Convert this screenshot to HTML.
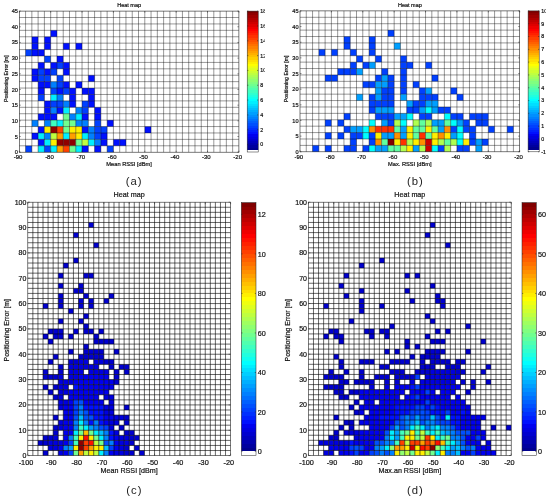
<!DOCTYPE html>
<html><head><meta charset="utf-8"><style>
html,body{margin:0;padding:0;background:#fff;width:550px;height:498px;overflow:hidden}
svg{display:block}

text{font-family:"Liberation Sans",Arial,sans-serif;fill:#111;stroke:#111;stroke-width:0.2px}
text.cap{font-family:"Liberation Sans",Arial,sans-serif;fill:#222;stroke:none;letter-spacing:1px}
</style></head><body>
<div id="w"><svg width="550" height="498" viewBox="0 0 550 498" shape-rendering="geometricPrecision">
<g><rect width="550" height="498" fill="#fff"/>
<rect x="50.67" y="30.34" width="6.29" height="6.43" fill="#0010ff"/>
<rect x="31.85" y="36.75" width="6.29" height="6.43" fill="#0010ff"/>
<rect x="44.4" y="36.75" width="6.29" height="6.43" fill="#0010ff"/>
<rect x="31.85" y="43.17" width="6.29" height="6.43" fill="#0010ff"/>
<rect x="44.4" y="43.17" width="6.29" height="6.43" fill="#0010ff"/>
<rect x="63.22" y="43.17" width="6.29" height="6.43" fill="#0010ff"/>
<rect x="75.77" y="43.17" width="6.29" height="6.43" fill="#0010ff"/>
<rect x="25.57" y="49.58" width="6.29" height="6.43" fill="#0040ff"/>
<rect x="31.85" y="49.58" width="6.29" height="6.43" fill="#0010ff"/>
<rect x="38.12" y="49.58" width="6.29" height="6.43" fill="#0010ff"/>
<rect x="44.4" y="56" width="6.29" height="6.43" fill="#0040ff"/>
<rect x="56.95" y="56" width="6.29" height="6.43" fill="#0010ff"/>
<rect x="38.12" y="62.41" width="6.29" height="6.43" fill="#0010ff"/>
<rect x="50.67" y="62.41" width="6.29" height="6.43" fill="#0010ff"/>
<rect x="56.95" y="62.41" width="6.29" height="6.43" fill="#0040ff"/>
<rect x="63.22" y="62.41" width="6.29" height="6.43" fill="#0010ff"/>
<rect x="31.85" y="68.82" width="6.29" height="6.43" fill="#0010ff"/>
<rect x="38.12" y="68.82" width="6.29" height="6.43" fill="#0040ff"/>
<rect x="44.4" y="68.82" width="6.29" height="6.43" fill="#0010ff"/>
<rect x="50.67" y="68.82" width="6.29" height="6.43" fill="#0040ff"/>
<rect x="63.22" y="68.82" width="6.29" height="6.43" fill="#0010ff"/>
<rect x="31.85" y="75.24" width="6.29" height="6.43" fill="#0010ff"/>
<rect x="38.12" y="75.24" width="6.29" height="6.43" fill="#0040ff"/>
<rect x="44.4" y="75.24" width="6.29" height="6.43" fill="#0040ff"/>
<rect x="56.95" y="75.24" width="6.29" height="6.43" fill="#0040ff"/>
<rect x="88.32" y="75.24" width="6.29" height="6.43" fill="#0010ff"/>
<rect x="38.12" y="81.65" width="6.29" height="6.43" fill="#0010ff"/>
<rect x="44.4" y="81.65" width="6.29" height="6.43" fill="#0010ff"/>
<rect x="50.67" y="81.65" width="6.29" height="6.43" fill="#0080ff"/>
<rect x="56.95" y="81.65" width="6.29" height="6.43" fill="#0040ff"/>
<rect x="63.22" y="81.65" width="6.29" height="6.43" fill="#0010ff"/>
<rect x="75.77" y="81.65" width="6.29" height="6.43" fill="#0010ff"/>
<rect x="38.12" y="88.06" width="6.29" height="6.43" fill="#0010ff"/>
<rect x="50.67" y="88.06" width="6.29" height="6.43" fill="#0040ff"/>
<rect x="56.95" y="88.06" width="6.29" height="6.43" fill="#0010ff"/>
<rect x="63.22" y="88.06" width="6.29" height="6.43" fill="#0040ff"/>
<rect x="69.49" y="88.06" width="6.29" height="6.43" fill="#0010ff"/>
<rect x="82.04" y="88.06" width="6.29" height="6.43" fill="#0010ff"/>
<rect x="88.32" y="88.06" width="6.29" height="6.43" fill="#0010ff"/>
<rect x="38.12" y="94.48" width="6.29" height="6.43" fill="#0040ff"/>
<rect x="50.67" y="94.48" width="6.29" height="6.43" fill="#00efff"/>
<rect x="56.95" y="94.48" width="6.29" height="6.43" fill="#0080ff"/>
<rect x="69.49" y="94.48" width="6.29" height="6.43" fill="#0010ff"/>
<rect x="88.32" y="94.48" width="6.29" height="6.43" fill="#0010ff"/>
<rect x="44.4" y="100.89" width="6.29" height="6.43" fill="#0010ff"/>
<rect x="50.67" y="100.89" width="6.29" height="6.43" fill="#0040ff"/>
<rect x="56.95" y="100.89" width="6.29" height="6.43" fill="#0040ff"/>
<rect x="63.22" y="100.89" width="6.29" height="6.43" fill="#0080ff"/>
<rect x="69.49" y="100.89" width="6.29" height="6.43" fill="#0010ff"/>
<rect x="82.04" y="100.89" width="6.29" height="6.43" fill="#0040ff"/>
<rect x="88.32" y="100.89" width="6.29" height="6.43" fill="#0010ff"/>
<rect x="44.4" y="107.3" width="6.29" height="6.43" fill="#0010ff"/>
<rect x="50.67" y="107.3" width="6.29" height="6.43" fill="#0080ff"/>
<rect x="56.95" y="107.3" width="6.29" height="6.43" fill="#0010ff"/>
<rect x="63.22" y="107.3" width="6.29" height="6.43" fill="#00efff"/>
<rect x="75.77" y="107.3" width="6.29" height="6.43" fill="#0080ff"/>
<rect x="82.04" y="107.3" width="6.29" height="6.43" fill="#0040ff"/>
<rect x="94.59" y="107.3" width="6.29" height="6.43" fill="#0010ff"/>
<rect x="38.12" y="113.72" width="6.29" height="6.43" fill="#0010ff"/>
<rect x="44.4" y="113.72" width="6.29" height="6.43" fill="#0010ff"/>
<rect x="50.67" y="113.72" width="6.29" height="6.43" fill="#0010ff"/>
<rect x="63.22" y="113.72" width="6.29" height="6.43" fill="#70ff8f"/>
<rect x="69.49" y="113.72" width="6.29" height="6.43" fill="#0080ff"/>
<rect x="75.77" y="113.72" width="6.29" height="6.43" fill="#00efff"/>
<rect x="82.04" y="113.72" width="6.29" height="6.43" fill="#0010ff"/>
<rect x="94.59" y="113.72" width="6.29" height="6.43" fill="#0010ff"/>
<rect x="31.85" y="120.13" width="6.29" height="6.43" fill="#0080ff"/>
<rect x="44.4" y="120.13" width="6.29" height="6.43" fill="#0080ff"/>
<rect x="50.67" y="120.13" width="6.29" height="6.43" fill="#40ffbf"/>
<rect x="56.95" y="120.13" width="6.29" height="6.43" fill="#00efff"/>
<rect x="63.22" y="120.13" width="6.29" height="6.43" fill="#70ff8f"/>
<rect x="69.49" y="120.13" width="6.29" height="6.43" fill="#70ff8f"/>
<rect x="75.77" y="120.13" width="6.29" height="6.43" fill="#0080ff"/>
<rect x="82.04" y="120.13" width="6.29" height="6.43" fill="#0080ff"/>
<rect x="94.59" y="120.13" width="6.29" height="6.43" fill="#0040ff"/>
<rect x="107.14" y="120.13" width="6.29" height="6.43" fill="#0010ff"/>
<rect x="38.12" y="126.55" width="6.29" height="6.43" fill="#0010ff"/>
<rect x="44.4" y="126.55" width="6.29" height="6.43" fill="#ffef00"/>
<rect x="50.67" y="126.55" width="6.29" height="6.43" fill="#8f0000"/>
<rect x="56.95" y="126.55" width="6.29" height="6.43" fill="#ff4000"/>
<rect x="63.22" y="126.55" width="6.29" height="6.43" fill="#70ff8f"/>
<rect x="69.49" y="126.55" width="6.29" height="6.43" fill="#ffef00"/>
<rect x="75.77" y="126.55" width="6.29" height="6.43" fill="#ffef00"/>
<rect x="82.04" y="126.55" width="6.29" height="6.43" fill="#0010ff"/>
<rect x="88.32" y="126.55" width="6.29" height="6.43" fill="#0080ff"/>
<rect x="94.59" y="126.55" width="6.29" height="6.43" fill="#0040ff"/>
<rect x="100.87" y="126.55" width="6.29" height="6.43" fill="#0040ff"/>
<rect x="144.79" y="126.55" width="6.29" height="6.43" fill="#0010ff"/>
<rect x="31.85" y="132.96" width="6.29" height="6.43" fill="#0010ff"/>
<rect x="38.12" y="132.96" width="6.29" height="6.43" fill="#00efff"/>
<rect x="44.4" y="132.96" width="6.29" height="6.43" fill="#0080ff"/>
<rect x="50.67" y="132.96" width="6.29" height="6.43" fill="#bfff40"/>
<rect x="56.95" y="132.96" width="6.29" height="6.43" fill="#ff9f00"/>
<rect x="63.22" y="132.96" width="6.29" height="6.43" fill="#00efff"/>
<rect x="69.49" y="132.96" width="6.29" height="6.43" fill="#ff9f00"/>
<rect x="75.77" y="132.96" width="6.29" height="6.43" fill="#ffef00"/>
<rect x="82.04" y="132.96" width="6.29" height="6.43" fill="#00efff"/>
<rect x="88.32" y="132.96" width="6.29" height="6.43" fill="#0080ff"/>
<rect x="94.59" y="132.96" width="6.29" height="6.43" fill="#0040ff"/>
<rect x="100.87" y="132.96" width="6.29" height="6.43" fill="#0010ff"/>
<rect x="38.12" y="139.37" width="6.29" height="6.43" fill="#0010ff"/>
<rect x="44.4" y="139.37" width="6.29" height="6.43" fill="#00efff"/>
<rect x="50.67" y="139.37" width="6.29" height="6.43" fill="#ffef00"/>
<rect x="56.95" y="139.37" width="6.29" height="6.43" fill="#8f0000"/>
<rect x="63.22" y="139.37" width="6.29" height="6.43" fill="#8f0000"/>
<rect x="69.49" y="139.37" width="6.29" height="6.43" fill="#8f0000"/>
<rect x="75.77" y="139.37" width="6.29" height="6.43" fill="#70ff8f"/>
<rect x="82.04" y="139.37" width="6.29" height="6.43" fill="#bfff40"/>
<rect x="88.32" y="139.37" width="6.29" height="6.43" fill="#00efff"/>
<rect x="94.59" y="139.37" width="6.29" height="6.43" fill="#0080ff"/>
<rect x="100.87" y="139.37" width="6.29" height="6.43" fill="#0010ff"/>
<rect x="113.41" y="139.37" width="6.29" height="6.43" fill="#0010ff"/>
<rect x="119.69" y="139.37" width="6.29" height="6.43" fill="#0010ff"/>
<rect x="25.57" y="145.79" width="6.29" height="6.43" fill="#0040ff"/>
<rect x="38.12" y="145.79" width="6.29" height="6.43" fill="#00efff"/>
<rect x="44.4" y="145.79" width="6.29" height="6.43" fill="#0040ff"/>
<rect x="50.67" y="145.79" width="6.29" height="6.43" fill="#00efff"/>
<rect x="56.95" y="145.79" width="6.29" height="6.43" fill="#ff9f00"/>
<rect x="63.22" y="145.79" width="6.29" height="6.43" fill="#ff4000"/>
<rect x="69.49" y="145.79" width="6.29" height="6.43" fill="#70ff8f"/>
<rect x="75.77" y="145.79" width="6.29" height="6.43" fill="#00efff"/>
<rect x="82.04" y="145.79" width="6.29" height="6.43" fill="#0010ff"/>
<rect x="94.59" y="145.79" width="6.29" height="6.43" fill="#0010ff"/>
<rect x="107.14" y="145.79" width="6.29" height="6.43" fill="#0040ff"/>
<path d="M25.57 11.1V152.2M31.85 11.1V152.2M38.12 11.1V152.2M44.4 11.1V152.2M50.67 11.1V152.2M56.95 11.1V152.2M63.22 11.1V152.2M69.49 11.1V152.2M75.77 11.1V152.2M82.04 11.1V152.2M88.32 11.1V152.2M94.59 11.1V152.2M100.87 11.1V152.2M107.14 11.1V152.2M113.41 11.1V152.2M119.69 11.1V152.2M125.96 11.1V152.2M132.24 11.1V152.2M138.51 11.1V152.2M144.79 11.1V152.2M151.06 11.1V152.2M157.33 11.1V152.2M163.61 11.1V152.2M169.88 11.1V152.2M176.16 11.1V152.2M182.43 11.1V152.2M188.71 11.1V152.2M194.98 11.1V152.2M201.25 11.1V152.2M207.53 11.1V152.2M213.8 11.1V152.2M220.08 11.1V152.2M226.35 11.1V152.2M232.63 11.1V152.2M19.3 17.51H238.9M19.3 23.93H238.9M19.3 30.34H238.9M19.3 36.75H238.9M19.3 43.17H238.9M19.3 49.58H238.9M19.3 56H238.9M19.3 62.41H238.9M19.3 68.82H238.9M19.3 75.24H238.9M19.3 81.65H238.9M19.3 88.06H238.9M19.3 94.48H238.9M19.3 100.89H238.9M19.3 107.3H238.9M19.3 113.72H238.9M19.3 120.13H238.9M19.3 126.55H238.9M19.3 132.96H238.9M19.3 139.37H238.9M19.3 145.79H238.9" stroke="rgba(0,0,0,0.58)" stroke-width="0.7" fill="none"/>
<rect x="19.3" y="11.1" width="219.6" height="141.1" fill="none" stroke="#222" stroke-width="0.6"/>
<text x="18.1" y="159.1" font-size="6" text-anchor="middle">-90</text>
<text x="49.47" y="159.1" font-size="6" text-anchor="middle">-80</text>
<text x="80.84" y="159.1" font-size="6" text-anchor="middle">-70</text>
<text x="112.21" y="159.1" font-size="6" text-anchor="middle">-60</text>
<text x="143.59" y="159.1" font-size="6" text-anchor="middle">-50</text>
<text x="174.96" y="159.1" font-size="6" text-anchor="middle">-40</text>
<text x="206.33" y="159.1" font-size="6" text-anchor="middle">-30</text>
<text x="237.7" y="159.1" font-size="6" text-anchor="middle">-20</text>
<text x="17.9" y="154.22" font-size="5.6" text-anchor="end">0</text>
<text x="17.9" y="138.54" font-size="5.6" text-anchor="end">5</text>
<text x="17.9" y="122.86" font-size="5.6" text-anchor="end">10</text>
<text x="17.9" y="107.18" font-size="5.6" text-anchor="end">15</text>
<text x="17.9" y="91.5" font-size="5.6" text-anchor="end">20</text>
<text x="17.9" y="75.83" font-size="5.6" text-anchor="end">25</text>
<text x="17.9" y="60.15" font-size="5.6" text-anchor="end">30</text>
<text x="17.9" y="44.47" font-size="5.6" text-anchor="end">35</text>
<text x="17.9" y="28.79" font-size="5.6" text-anchor="end">40</text>
<text x="17.9" y="13.12" font-size="5.6" text-anchor="end">45</text>
<path d="M19.3 152.2v-1.5M19.3 11.1v1.5M50.67 152.2v-1.5M50.67 11.1v1.5M82.04 152.2v-1.5M82.04 11.1v1.5M113.41 152.2v-1.5M113.41 11.1v1.5M144.79 152.2v-1.5M144.79 11.1v1.5M176.16 152.2v-1.5M176.16 11.1v1.5M207.53 152.2v-1.5M207.53 11.1v1.5M238.9 152.2v-1.5M238.9 11.1v1.5M19.3 152.2h1.5M238.9 152.2h-1.5M19.3 136.52h1.5M238.9 136.52h-1.5M19.3 120.84h1.5M238.9 120.84h-1.5M19.3 105.17h1.5M238.9 105.17h-1.5M19.3 89.49h1.5M238.9 89.49h-1.5M19.3 73.81h1.5M238.9 73.81h-1.5M19.3 58.13h1.5M238.9 58.13h-1.5M19.3 42.46h1.5M238.9 42.46h-1.5M19.3 26.78h1.5M238.9 26.78h-1.5M19.3 11.1h1.5M238.9 11.1h-1.5" stroke="#222" stroke-width="0.5" fill="none"/>
<text x="129.1" y="7" font-size="5.5" text-anchor="middle">Heat map</text>
<text x="129.1" y="166" font-size="5.7" text-anchor="middle">Mean RSSI [dBm]</text>
<text transform="translate(7.9 78.7) rotate(-90)" font-size="5.15" text-anchor="middle">Positioning Error [m]</text>
<linearGradient id="ga" x1="0" y1="0" x2="0" y2="1"><stop offset="0%" stop-color="#800000"/><stop offset="1.56%" stop-color="#800000"/><stop offset="1.56%" stop-color="#8f0000"/><stop offset="3.12%" stop-color="#8f0000"/><stop offset="3.12%" stop-color="#9f0000"/><stop offset="4.69%" stop-color="#9f0000"/><stop offset="4.69%" stop-color="#af0000"/><stop offset="6.25%" stop-color="#af0000"/><stop offset="6.25%" stop-color="#bf0000"/><stop offset="7.81%" stop-color="#bf0000"/><stop offset="7.81%" stop-color="#cf0000"/><stop offset="9.38%" stop-color="#cf0000"/><stop offset="9.38%" stop-color="#df0000"/><stop offset="10.94%" stop-color="#df0000"/><stop offset="10.94%" stop-color="#ef0000"/><stop offset="12.5%" stop-color="#ef0000"/><stop offset="12.5%" stop-color="#ff0000"/><stop offset="14.06%" stop-color="#ff0000"/><stop offset="14.06%" stop-color="#ff1000"/><stop offset="15.62%" stop-color="#ff1000"/><stop offset="15.62%" stop-color="#ff2000"/><stop offset="17.19%" stop-color="#ff2000"/><stop offset="17.19%" stop-color="#ff3000"/><stop offset="18.75%" stop-color="#ff3000"/><stop offset="18.75%" stop-color="#ff4000"/><stop offset="20.31%" stop-color="#ff4000"/><stop offset="20.31%" stop-color="#ff5000"/><stop offset="21.88%" stop-color="#ff5000"/><stop offset="21.88%" stop-color="#ff6000"/><stop offset="23.44%" stop-color="#ff6000"/><stop offset="23.44%" stop-color="#ff7000"/><stop offset="25%" stop-color="#ff7000"/><stop offset="25%" stop-color="#ff8000"/><stop offset="26.56%" stop-color="#ff8000"/><stop offset="26.56%" stop-color="#ff8f00"/><stop offset="28.12%" stop-color="#ff8f00"/><stop offset="28.12%" stop-color="#ff9f00"/><stop offset="29.69%" stop-color="#ff9f00"/><stop offset="29.69%" stop-color="#ffaf00"/><stop offset="31.25%" stop-color="#ffaf00"/><stop offset="31.25%" stop-color="#ffbf00"/><stop offset="32.81%" stop-color="#ffbf00"/><stop offset="32.81%" stop-color="#ffcf00"/><stop offset="34.38%" stop-color="#ffcf00"/><stop offset="34.38%" stop-color="#ffdf00"/><stop offset="35.94%" stop-color="#ffdf00"/><stop offset="35.94%" stop-color="#ffef00"/><stop offset="37.5%" stop-color="#ffef00"/><stop offset="37.5%" stop-color="#ffff00"/><stop offset="39.06%" stop-color="#ffff00"/><stop offset="39.06%" stop-color="#efff10"/><stop offset="40.62%" stop-color="#efff10"/><stop offset="40.62%" stop-color="#dfff20"/><stop offset="42.19%" stop-color="#dfff20"/><stop offset="42.19%" stop-color="#cfff30"/><stop offset="43.75%" stop-color="#cfff30"/><stop offset="43.75%" stop-color="#bfff40"/><stop offset="45.31%" stop-color="#bfff40"/><stop offset="45.31%" stop-color="#afff50"/><stop offset="46.88%" stop-color="#afff50"/><stop offset="46.88%" stop-color="#9fff60"/><stop offset="48.44%" stop-color="#9fff60"/><stop offset="48.44%" stop-color="#8fff70"/><stop offset="50%" stop-color="#8fff70"/><stop offset="50%" stop-color="#80ff80"/><stop offset="51.56%" stop-color="#80ff80"/><stop offset="51.56%" stop-color="#70ff8f"/><stop offset="53.12%" stop-color="#70ff8f"/><stop offset="53.12%" stop-color="#60ff9f"/><stop offset="54.69%" stop-color="#60ff9f"/><stop offset="54.69%" stop-color="#50ffaf"/><stop offset="56.25%" stop-color="#50ffaf"/><stop offset="56.25%" stop-color="#40ffbf"/><stop offset="57.81%" stop-color="#40ffbf"/><stop offset="57.81%" stop-color="#30ffcf"/><stop offset="59.38%" stop-color="#30ffcf"/><stop offset="59.38%" stop-color="#20ffdf"/><stop offset="60.94%" stop-color="#20ffdf"/><stop offset="60.94%" stop-color="#10ffef"/><stop offset="62.5%" stop-color="#10ffef"/><stop offset="62.5%" stop-color="#00ffff"/><stop offset="64.06%" stop-color="#00ffff"/><stop offset="64.06%" stop-color="#00efff"/><stop offset="65.62%" stop-color="#00efff"/><stop offset="65.62%" stop-color="#00dfff"/><stop offset="67.19%" stop-color="#00dfff"/><stop offset="67.19%" stop-color="#00cfff"/><stop offset="68.75%" stop-color="#00cfff"/><stop offset="68.75%" stop-color="#00bfff"/><stop offset="70.31%" stop-color="#00bfff"/><stop offset="70.31%" stop-color="#00afff"/><stop offset="71.88%" stop-color="#00afff"/><stop offset="71.88%" stop-color="#009fff"/><stop offset="73.44%" stop-color="#009fff"/><stop offset="73.44%" stop-color="#008fff"/><stop offset="75%" stop-color="#008fff"/><stop offset="75%" stop-color="#0080ff"/><stop offset="76.56%" stop-color="#0080ff"/><stop offset="76.56%" stop-color="#0070ff"/><stop offset="78.12%" stop-color="#0070ff"/><stop offset="78.12%" stop-color="#0060ff"/><stop offset="79.69%" stop-color="#0060ff"/><stop offset="79.69%" stop-color="#0050ff"/><stop offset="81.25%" stop-color="#0050ff"/><stop offset="81.25%" stop-color="#0040ff"/><stop offset="82.81%" stop-color="#0040ff"/><stop offset="82.81%" stop-color="#0030ff"/><stop offset="84.38%" stop-color="#0030ff"/><stop offset="84.38%" stop-color="#0020ff"/><stop offset="85.94%" stop-color="#0020ff"/><stop offset="85.94%" stop-color="#0010ff"/><stop offset="87.5%" stop-color="#0010ff"/><stop offset="87.5%" stop-color="#0000ef"/><stop offset="89.06%" stop-color="#0000ef"/><stop offset="89.06%" stop-color="#0000df"/><stop offset="90.62%" stop-color="#0000df"/><stop offset="90.62%" stop-color="#0000cf"/><stop offset="92.19%" stop-color="#0000cf"/><stop offset="92.19%" stop-color="#0000bf"/><stop offset="93.75%" stop-color="#0000bf"/><stop offset="93.75%" stop-color="#0000af"/><stop offset="95.31%" stop-color="#0000af"/><stop offset="95.31%" stop-color="#00009f"/><stop offset="96.88%" stop-color="#00009f"/><stop offset="96.88%" stop-color="#00008f"/><stop offset="98.44%" stop-color="#00008f"/><stop offset="98.44%" stop-color="#ffffff"/><stop offset="100%" stop-color="#ffffff"/></linearGradient>
<rect x="247.2" y="11.1" width="11" height="140.9" fill="url(#ga)"/>
<rect x="247.2" y="11.1" width="11" height="140.9" fill="none" stroke="#222" stroke-width="0.5"/>
<clipPath id="cla"><rect x="0" y="0" width="264.7" height="498"/></clipPath><g clip-path="url(#cla)">
<text x="260.2" y="146.49" font-size="5.3">0</text>
<text x="260.2" y="131.66" font-size="5.3">2</text>
<text x="260.2" y="116.83" font-size="5.3">4</text>
<text x="260.2" y="102" font-size="5.3">6</text>
<text x="260.2" y="87.17" font-size="5.3">8</text>
<text x="260.2" y="72.33" font-size="5.3">10</text>
<text x="260.2" y="57.5" font-size="5.3">12</text>
<text x="260.2" y="42.67" font-size="5.3">14</text>
<text x="260.2" y="27.84" font-size="5.3">16</text>
<text x="260.2" y="13.01" font-size="5.3">18</text>
</g>
<path d="M258.2 144.58h-1.2M247.2 144.58h1.2M258.2 129.75h-1.2M247.2 129.75h1.2M258.2 114.92h-1.2M247.2 114.92h1.2M258.2 100.09h-1.2M247.2 100.09h1.2M258.2 85.26h-1.2M247.2 85.26h1.2M258.2 70.43h-1.2M247.2 70.43h1.2M258.2 55.59h-1.2M247.2 55.59h1.2M258.2 40.76h-1.2M247.2 40.76h1.2M258.2 25.93h-1.2M247.2 25.93h1.2M258.2 11.1h-1.2M247.2 11.1h1.2" stroke="#222" stroke-width="0.5" fill="none"/>
<text x="134.2" y="184.9" font-size="11.3" text-anchor="middle" class="cap">(a)</text>
<rect x="387.88" y="30.11" width="6.3" height="6.42" fill="#0040ff"/>
<rect x="343.94" y="36.52" width="6.3" height="6.42" fill="#0040ff"/>
<rect x="369.05" y="36.52" width="6.3" height="6.42" fill="#0040ff"/>
<rect x="343.94" y="42.92" width="6.3" height="6.42" fill="#0040ff"/>
<rect x="369.05" y="42.92" width="6.3" height="6.42" fill="#0040ff"/>
<rect x="394.16" y="42.92" width="6.3" height="6.42" fill="#009fff"/>
<rect x="318.83" y="49.33" width="6.3" height="6.42" fill="#0040ff"/>
<rect x="331.39" y="49.33" width="6.3" height="6.42" fill="#0040ff"/>
<rect x="350.22" y="49.33" width="6.3" height="6.42" fill="#0040ff"/>
<rect x="369.05" y="49.33" width="6.3" height="6.42" fill="#0040ff"/>
<rect x="356.49" y="55.73" width="6.3" height="6.42" fill="#0040ff"/>
<rect x="375.33" y="55.73" width="6.3" height="6.42" fill="#0040ff"/>
<rect x="400.43" y="55.73" width="6.3" height="6.42" fill="#0040ff"/>
<rect x="350.22" y="62.14" width="6.3" height="6.42" fill="#0040ff"/>
<rect x="362.77" y="62.14" width="6.3" height="6.42" fill="#0040ff"/>
<rect x="369.05" y="62.14" width="6.3" height="6.42" fill="#009fff"/>
<rect x="400.43" y="62.14" width="6.3" height="6.42" fill="#0040ff"/>
<rect x="406.71" y="62.14" width="6.3" height="6.42" fill="#0040ff"/>
<rect x="425.54" y="62.14" width="6.3" height="6.42" fill="#0040ff"/>
<rect x="337.66" y="68.54" width="6.3" height="6.42" fill="#0040ff"/>
<rect x="343.94" y="68.54" width="6.3" height="6.42" fill="#0040ff"/>
<rect x="350.22" y="68.54" width="6.3" height="6.42" fill="#0040ff"/>
<rect x="356.49" y="68.54" width="6.3" height="6.42" fill="#009fff"/>
<rect x="381.6" y="68.54" width="6.3" height="6.42" fill="#0040ff"/>
<rect x="400.43" y="68.54" width="6.3" height="6.42" fill="#0040ff"/>
<rect x="325.11" y="74.95" width="6.3" height="6.42" fill="#0040ff"/>
<rect x="331.39" y="74.95" width="6.3" height="6.42" fill="#0040ff"/>
<rect x="375.33" y="74.95" width="6.3" height="6.42" fill="#0040ff"/>
<rect x="381.6" y="74.95" width="6.3" height="6.42" fill="#009fff"/>
<rect x="387.88" y="74.95" width="6.3" height="6.42" fill="#0040ff"/>
<rect x="400.43" y="74.95" width="6.3" height="6.42" fill="#0040ff"/>
<rect x="431.82" y="74.95" width="6.3" height="6.42" fill="#0040ff"/>
<rect x="362.77" y="81.35" width="6.3" height="6.42" fill="#0040ff"/>
<rect x="369.05" y="81.35" width="6.3" height="6.42" fill="#0040ff"/>
<rect x="375.33" y="81.35" width="6.3" height="6.42" fill="#009fff"/>
<rect x="381.6" y="81.35" width="6.3" height="6.42" fill="#009fff"/>
<rect x="387.88" y="81.35" width="6.3" height="6.42" fill="#0040ff"/>
<rect x="400.43" y="81.35" width="6.3" height="6.42" fill="#0040ff"/>
<rect x="412.99" y="81.35" width="6.3" height="6.42" fill="#0040ff"/>
<rect x="375.33" y="87.75" width="6.3" height="6.42" fill="#009fff"/>
<rect x="381.6" y="87.75" width="6.3" height="6.42" fill="#0040ff"/>
<rect x="387.88" y="87.75" width="6.3" height="6.42" fill="#0040ff"/>
<rect x="400.43" y="87.75" width="6.3" height="6.42" fill="#0040ff"/>
<rect x="419.27" y="87.75" width="6.3" height="6.42" fill="#0040ff"/>
<rect x="425.54" y="87.75" width="6.3" height="6.42" fill="#009fff"/>
<rect x="450.65" y="87.75" width="6.3" height="6.42" fill="#0040ff"/>
<rect x="356.49" y="94.16" width="6.3" height="6.42" fill="#009fff"/>
<rect x="369.05" y="94.16" width="6.3" height="6.42" fill="#0040ff"/>
<rect x="375.33" y="94.16" width="6.3" height="6.42" fill="#009fff"/>
<rect x="381.6" y="94.16" width="6.3" height="6.42" fill="#0040ff"/>
<rect x="387.88" y="94.16" width="6.3" height="6.42" fill="#0040ff"/>
<rect x="400.43" y="94.16" width="6.3" height="6.42" fill="#009fff"/>
<rect x="419.27" y="94.16" width="6.3" height="6.42" fill="#0040ff"/>
<rect x="425.54" y="94.16" width="6.3" height="6.42" fill="#0040ff"/>
<rect x="431.82" y="94.16" width="6.3" height="6.42" fill="#0040ff"/>
<rect x="456.93" y="94.16" width="6.3" height="6.42" fill="#0040ff"/>
<rect x="369.05" y="100.56" width="6.3" height="6.42" fill="#0040ff"/>
<rect x="375.33" y="100.56" width="6.3" height="6.42" fill="#0040ff"/>
<rect x="381.6" y="100.56" width="6.3" height="6.42" fill="#0040ff"/>
<rect x="387.88" y="100.56" width="6.3" height="6.42" fill="#0040ff"/>
<rect x="406.71" y="100.56" width="6.3" height="6.42" fill="#009fff"/>
<rect x="412.99" y="100.56" width="6.3" height="6.42" fill="#0040ff"/>
<rect x="419.27" y="100.56" width="6.3" height="6.42" fill="#0040ff"/>
<rect x="425.54" y="100.56" width="6.3" height="6.42" fill="#009fff"/>
<rect x="431.82" y="100.56" width="6.3" height="6.42" fill="#009fff"/>
<rect x="369.05" y="106.97" width="6.3" height="6.42" fill="#0040ff"/>
<rect x="375.33" y="106.97" width="6.3" height="6.42" fill="#009fff"/>
<rect x="381.6" y="106.97" width="6.3" height="6.42" fill="#009fff"/>
<rect x="387.88" y="106.97" width="6.3" height="6.42" fill="#009fff"/>
<rect x="406.71" y="106.97" width="6.3" height="6.42" fill="#0040ff"/>
<rect x="412.99" y="106.97" width="6.3" height="6.42" fill="#0040ff"/>
<rect x="419.27" y="106.97" width="6.3" height="6.42" fill="#009fff"/>
<rect x="425.54" y="106.97" width="6.3" height="6.42" fill="#00ffff"/>
<rect x="431.82" y="106.97" width="6.3" height="6.42" fill="#009fff"/>
<rect x="438.1" y="106.97" width="6.3" height="6.42" fill="#0040ff"/>
<rect x="444.37" y="106.97" width="6.3" height="6.42" fill="#0040ff"/>
<rect x="343.94" y="113.37" width="6.3" height="6.42" fill="#0040ff"/>
<rect x="375.33" y="113.37" width="6.3" height="6.42" fill="#0040ff"/>
<rect x="381.6" y="113.37" width="6.3" height="6.42" fill="#0040ff"/>
<rect x="387.88" y="113.37" width="6.3" height="6.42" fill="#0040ff"/>
<rect x="394.16" y="113.37" width="6.3" height="6.42" fill="#009fff"/>
<rect x="400.43" y="113.37" width="6.3" height="6.42" fill="#009fff"/>
<rect x="406.71" y="113.37" width="6.3" height="6.42" fill="#00ffff"/>
<rect x="419.27" y="113.37" width="6.3" height="6.42" fill="#0040ff"/>
<rect x="425.54" y="113.37" width="6.3" height="6.42" fill="#0040ff"/>
<rect x="444.37" y="113.37" width="6.3" height="6.42" fill="#00ffff"/>
<rect x="450.65" y="113.37" width="6.3" height="6.42" fill="#0040ff"/>
<rect x="456.93" y="113.37" width="6.3" height="6.42" fill="#0040ff"/>
<rect x="469.48" y="113.37" width="6.3" height="6.42" fill="#0040ff"/>
<rect x="475.76" y="113.37" width="6.3" height="6.42" fill="#0040ff"/>
<rect x="482.04" y="113.37" width="6.3" height="6.42" fill="#0040ff"/>
<rect x="325.11" y="119.78" width="6.3" height="6.42" fill="#0040ff"/>
<rect x="337.66" y="119.78" width="6.3" height="6.42" fill="#0040ff"/>
<rect x="369.05" y="119.78" width="6.3" height="6.42" fill="#00ffff"/>
<rect x="381.6" y="119.78" width="6.3" height="6.42" fill="#009fff"/>
<rect x="387.88" y="119.78" width="6.3" height="6.42" fill="#0040ff"/>
<rect x="394.16" y="119.78" width="6.3" height="6.42" fill="#afff50"/>
<rect x="400.43" y="119.78" width="6.3" height="6.42" fill="#00ffff"/>
<rect x="412.99" y="119.78" width="6.3" height="6.42" fill="#afff50"/>
<rect x="419.27" y="119.78" width="6.3" height="6.42" fill="#60ff9f"/>
<rect x="425.54" y="119.78" width="6.3" height="6.42" fill="#afff50"/>
<rect x="431.82" y="119.78" width="6.3" height="6.42" fill="#009fff"/>
<rect x="438.1" y="119.78" width="6.3" height="6.42" fill="#009fff"/>
<rect x="444.37" y="119.78" width="6.3" height="6.42" fill="#60ff9f"/>
<rect x="450.65" y="119.78" width="6.3" height="6.42" fill="#00ffff"/>
<rect x="456.93" y="119.78" width="6.3" height="6.42" fill="#009fff"/>
<rect x="463.21" y="119.78" width="6.3" height="6.42" fill="#0040ff"/>
<rect x="475.76" y="119.78" width="6.3" height="6.42" fill="#0040ff"/>
<rect x="482.04" y="119.78" width="6.3" height="6.42" fill="#0040ff"/>
<rect x="343.94" y="126.18" width="6.3" height="6.42" fill="#0040ff"/>
<rect x="350.22" y="126.18" width="6.3" height="6.42" fill="#009fff"/>
<rect x="356.49" y="126.18" width="6.3" height="6.42" fill="#009fff"/>
<rect x="362.77" y="126.18" width="6.3" height="6.42" fill="#00ffff"/>
<rect x="369.05" y="126.18" width="6.3" height="6.42" fill="#ff8f00"/>
<rect x="375.33" y="126.18" width="6.3" height="6.42" fill="#ff3000"/>
<rect x="381.6" y="126.18" width="6.3" height="6.42" fill="#ff3000"/>
<rect x="387.88" y="126.18" width="6.3" height="6.42" fill="#ff3000"/>
<rect x="394.16" y="126.18" width="6.3" height="6.42" fill="#60ff9f"/>
<rect x="400.43" y="126.18" width="6.3" height="6.42" fill="#009fff"/>
<rect x="406.71" y="126.18" width="6.3" height="6.42" fill="#ffef00"/>
<rect x="412.99" y="126.18" width="6.3" height="6.42" fill="#60ff9f"/>
<rect x="419.27" y="126.18" width="6.3" height="6.42" fill="#60ff9f"/>
<rect x="425.54" y="126.18" width="6.3" height="6.42" fill="#ffef00"/>
<rect x="431.82" y="126.18" width="6.3" height="6.42" fill="#60ff9f"/>
<rect x="438.1" y="126.18" width="6.3" height="6.42" fill="#009fff"/>
<rect x="444.37" y="126.18" width="6.3" height="6.42" fill="#ff8f00"/>
<rect x="450.65" y="126.18" width="6.3" height="6.42" fill="#0040ff"/>
<rect x="456.93" y="126.18" width="6.3" height="6.42" fill="#00ffff"/>
<rect x="463.21" y="126.18" width="6.3" height="6.42" fill="#0040ff"/>
<rect x="469.48" y="126.18" width="6.3" height="6.42" fill="#0040ff"/>
<rect x="488.31" y="126.18" width="6.3" height="6.42" fill="#0040ff"/>
<rect x="507.15" y="126.18" width="6.3" height="6.42" fill="#0040ff"/>
<rect x="325.11" y="132.59" width="6.3" height="6.42" fill="#0040ff"/>
<rect x="337.66" y="132.59" width="6.3" height="6.42" fill="#0040ff"/>
<rect x="350.22" y="132.59" width="6.3" height="6.42" fill="#0040ff"/>
<rect x="356.49" y="132.59" width="6.3" height="6.42" fill="#0040ff"/>
<rect x="362.77" y="132.59" width="6.3" height="6.42" fill="#00ffff"/>
<rect x="369.05" y="132.59" width="6.3" height="6.42" fill="#0040ff"/>
<rect x="375.33" y="132.59" width="6.3" height="6.42" fill="#ffef00"/>
<rect x="381.6" y="132.59" width="6.3" height="6.42" fill="#009fff"/>
<rect x="387.88" y="132.59" width="6.3" height="6.42" fill="#009fff"/>
<rect x="394.16" y="132.59" width="6.3" height="6.42" fill="#ff8f00"/>
<rect x="400.43" y="132.59" width="6.3" height="6.42" fill="#009fff"/>
<rect x="406.71" y="132.59" width="6.3" height="6.42" fill="#ffef00"/>
<rect x="412.99" y="132.59" width="6.3" height="6.42" fill="#60ff9f"/>
<rect x="419.27" y="132.59" width="6.3" height="6.42" fill="#ff3000"/>
<rect x="425.54" y="132.59" width="6.3" height="6.42" fill="#60ff9f"/>
<rect x="431.82" y="132.59" width="6.3" height="6.42" fill="#ffef00"/>
<rect x="438.1" y="132.59" width="6.3" height="6.42" fill="#ff8f00"/>
<rect x="444.37" y="132.59" width="6.3" height="6.42" fill="#ffef00"/>
<rect x="450.65" y="132.59" width="6.3" height="6.42" fill="#009fff"/>
<rect x="456.93" y="132.59" width="6.3" height="6.42" fill="#00ffff"/>
<rect x="469.48" y="132.59" width="6.3" height="6.42" fill="#0040ff"/>
<rect x="350.22" y="138.99" width="6.3" height="6.42" fill="#0040ff"/>
<rect x="369.05" y="138.99" width="6.3" height="6.42" fill="#0040ff"/>
<rect x="375.33" y="138.99" width="6.3" height="6.42" fill="#ff8f00"/>
<rect x="381.6" y="138.99" width="6.3" height="6.42" fill="#60ff9f"/>
<rect x="387.88" y="138.99" width="6.3" height="6.42" fill="#800000"/>
<rect x="394.16" y="138.99" width="6.3" height="6.42" fill="#ffef00"/>
<rect x="400.43" y="138.99" width="6.3" height="6.42" fill="#ff3000"/>
<rect x="406.71" y="138.99" width="6.3" height="6.42" fill="#afff50"/>
<rect x="412.99" y="138.99" width="6.3" height="6.42" fill="#ffef00"/>
<rect x="419.27" y="138.99" width="6.3" height="6.42" fill="#ff8f00"/>
<rect x="425.54" y="138.99" width="6.3" height="6.42" fill="#cf0000"/>
<rect x="431.82" y="138.99" width="6.3" height="6.42" fill="#ffef00"/>
<rect x="438.1" y="138.99" width="6.3" height="6.42" fill="#afff50"/>
<rect x="444.37" y="138.99" width="6.3" height="6.42" fill="#60ff9f"/>
<rect x="450.65" y="138.99" width="6.3" height="6.42" fill="#afff50"/>
<rect x="456.93" y="138.99" width="6.3" height="6.42" fill="#00ffff"/>
<rect x="463.21" y="138.99" width="6.3" height="6.42" fill="#ffef00"/>
<rect x="469.48" y="138.99" width="6.3" height="6.42" fill="#0040ff"/>
<rect x="475.76" y="138.99" width="6.3" height="6.42" fill="#009fff"/>
<rect x="482.04" y="138.99" width="6.3" height="6.42" fill="#0040ff"/>
<rect x="312.55" y="145.4" width="6.3" height="6.42" fill="#0040ff"/>
<rect x="325.11" y="145.4" width="6.3" height="6.42" fill="#0040ff"/>
<rect x="343.94" y="145.4" width="6.3" height="6.42" fill="#0040ff"/>
<rect x="350.22" y="145.4" width="6.3" height="6.42" fill="#0040ff"/>
<rect x="362.77" y="145.4" width="6.3" height="6.42" fill="#0040ff"/>
<rect x="369.05" y="145.4" width="6.3" height="6.42" fill="#00ffff"/>
<rect x="375.33" y="145.4" width="6.3" height="6.42" fill="#009fff"/>
<rect x="381.6" y="145.4" width="6.3" height="6.42" fill="#009fff"/>
<rect x="387.88" y="145.4" width="6.3" height="6.42" fill="#60ff9f"/>
<rect x="394.16" y="145.4" width="6.3" height="6.42" fill="#60ff9f"/>
<rect x="400.43" y="145.4" width="6.3" height="6.42" fill="#afff50"/>
<rect x="406.71" y="145.4" width="6.3" height="6.42" fill="#ffef00"/>
<rect x="412.99" y="145.4" width="6.3" height="6.42" fill="#009fff"/>
<rect x="419.27" y="145.4" width="6.3" height="6.42" fill="#afff50"/>
<rect x="425.54" y="145.4" width="6.3" height="6.42" fill="#cf0000"/>
<rect x="431.82" y="145.4" width="6.3" height="6.42" fill="#00ffff"/>
<rect x="438.1" y="145.4" width="6.3" height="6.42" fill="#0040ff"/>
<rect x="444.37" y="145.4" width="6.3" height="6.42" fill="#afff50"/>
<rect x="456.93" y="145.4" width="6.3" height="6.42" fill="#0040ff"/>
<rect x="463.21" y="145.4" width="6.3" height="6.42" fill="#0040ff"/>
<rect x="475.76" y="145.4" width="6.3" height="6.42" fill="#009fff"/>
<path d="M306.28 10.9V151.8M312.55 10.9V151.8M318.83 10.9V151.8M325.11 10.9V151.8M331.39 10.9V151.8M337.66 10.9V151.8M343.94 10.9V151.8M350.22 10.9V151.8M356.49 10.9V151.8M362.77 10.9V151.8M369.05 10.9V151.8M375.33 10.9V151.8M381.6 10.9V151.8M387.88 10.9V151.8M394.16 10.9V151.8M400.43 10.9V151.8M406.71 10.9V151.8M412.99 10.9V151.8M419.27 10.9V151.8M425.54 10.9V151.8M431.82 10.9V151.8M438.1 10.9V151.8M444.37 10.9V151.8M450.65 10.9V151.8M456.93 10.9V151.8M463.21 10.9V151.8M469.48 10.9V151.8M475.76 10.9V151.8M482.04 10.9V151.8M488.31 10.9V151.8M494.59 10.9V151.8M500.87 10.9V151.8M507.15 10.9V151.8M513.42 10.9V151.8M300 17.3H519.7M300 23.71H519.7M300 30.11H519.7M300 36.52H519.7M300 42.92H519.7M300 49.33H519.7M300 55.73H519.7M300 62.14H519.7M300 68.54H519.7M300 74.95H519.7M300 81.35H519.7M300 87.75H519.7M300 94.16H519.7M300 100.56H519.7M300 106.97H519.7M300 113.37H519.7M300 119.78H519.7M300 126.18H519.7M300 132.59H519.7M300 138.99H519.7M300 145.4H519.7" stroke="rgba(0,0,0,0.58)" stroke-width="0.7" fill="none"/>
<rect x="300" y="10.9" width="219.7" height="140.9" fill="none" stroke="#222" stroke-width="0.6"/>
<text x="298.8" y="158.7" font-size="6" text-anchor="middle">-90</text>
<text x="330.19" y="158.7" font-size="6" text-anchor="middle">-80</text>
<text x="361.57" y="158.7" font-size="6" text-anchor="middle">-70</text>
<text x="392.96" y="158.7" font-size="6" text-anchor="middle">-60</text>
<text x="424.34" y="158.7" font-size="6" text-anchor="middle">-50</text>
<text x="455.73" y="158.7" font-size="6" text-anchor="middle">-40</text>
<text x="487.11" y="158.7" font-size="6" text-anchor="middle">-30</text>
<text x="518.5" y="158.7" font-size="6" text-anchor="middle">-20</text>
<text x="298.6" y="153.82" font-size="5.6" text-anchor="end">0</text>
<text x="298.6" y="138.16" font-size="5.6" text-anchor="end">5</text>
<text x="298.6" y="122.5" font-size="5.6" text-anchor="end">10</text>
<text x="298.6" y="106.85" font-size="5.6" text-anchor="end">15</text>
<text x="298.6" y="91.19" font-size="5.6" text-anchor="end">20</text>
<text x="298.6" y="75.54" font-size="5.6" text-anchor="end">25</text>
<text x="298.6" y="59.88" font-size="5.6" text-anchor="end">30</text>
<text x="298.6" y="44.23" font-size="5.6" text-anchor="end">35</text>
<text x="298.6" y="28.57" font-size="5.6" text-anchor="end">40</text>
<text x="298.6" y="12.92" font-size="5.6" text-anchor="end">45</text>
<path d="M300 151.8v-1.5M300 10.9v1.5M331.39 151.8v-1.5M331.39 10.9v1.5M362.77 151.8v-1.5M362.77 10.9v1.5M394.16 151.8v-1.5M394.16 10.9v1.5M425.54 151.8v-1.5M425.54 10.9v1.5M456.93 151.8v-1.5M456.93 10.9v1.5M488.31 151.8v-1.5M488.31 10.9v1.5M519.7 151.8v-1.5M519.7 10.9v1.5M300 151.8h1.5M519.7 151.8h-1.5M300 136.14h1.5M519.7 136.14h-1.5M300 120.49h1.5M519.7 120.49h-1.5M300 104.83h1.5M519.7 104.83h-1.5M300 89.18h1.5M519.7 89.18h-1.5M300 73.52h1.5M519.7 73.52h-1.5M300 57.87h1.5M519.7 57.87h-1.5M300 42.21h1.5M519.7 42.21h-1.5M300 26.56h1.5M519.7 26.56h-1.5M300 10.9h1.5M519.7 10.9h-1.5" stroke="#222" stroke-width="0.5" fill="none"/>
<text x="409.85" y="7" font-size="5.5" text-anchor="middle">Heat map</text>
<text x="409.85" y="166" font-size="5.7" text-anchor="middle">Max. RSSI [dBm]</text>
<text transform="translate(288 78.9) rotate(-90)" font-size="5.15" text-anchor="middle">Positioning Error [m]</text>
<linearGradient id="gb" x1="0" y1="0" x2="0" y2="1"><stop offset="0%" stop-color="#800000"/><stop offset="1.56%" stop-color="#800000"/><stop offset="1.56%" stop-color="#8f0000"/><stop offset="3.12%" stop-color="#8f0000"/><stop offset="3.12%" stop-color="#9f0000"/><stop offset="4.69%" stop-color="#9f0000"/><stop offset="4.69%" stop-color="#af0000"/><stop offset="6.25%" stop-color="#af0000"/><stop offset="6.25%" stop-color="#bf0000"/><stop offset="7.81%" stop-color="#bf0000"/><stop offset="7.81%" stop-color="#cf0000"/><stop offset="9.38%" stop-color="#cf0000"/><stop offset="9.38%" stop-color="#df0000"/><stop offset="10.94%" stop-color="#df0000"/><stop offset="10.94%" stop-color="#ef0000"/><stop offset="12.5%" stop-color="#ef0000"/><stop offset="12.5%" stop-color="#ff0000"/><stop offset="14.06%" stop-color="#ff0000"/><stop offset="14.06%" stop-color="#ff1000"/><stop offset="15.62%" stop-color="#ff1000"/><stop offset="15.62%" stop-color="#ff2000"/><stop offset="17.19%" stop-color="#ff2000"/><stop offset="17.19%" stop-color="#ff3000"/><stop offset="18.75%" stop-color="#ff3000"/><stop offset="18.75%" stop-color="#ff4000"/><stop offset="20.31%" stop-color="#ff4000"/><stop offset="20.31%" stop-color="#ff5000"/><stop offset="21.88%" stop-color="#ff5000"/><stop offset="21.88%" stop-color="#ff6000"/><stop offset="23.44%" stop-color="#ff6000"/><stop offset="23.44%" stop-color="#ff7000"/><stop offset="25%" stop-color="#ff7000"/><stop offset="25%" stop-color="#ff8000"/><stop offset="26.56%" stop-color="#ff8000"/><stop offset="26.56%" stop-color="#ff8f00"/><stop offset="28.12%" stop-color="#ff8f00"/><stop offset="28.12%" stop-color="#ff9f00"/><stop offset="29.69%" stop-color="#ff9f00"/><stop offset="29.69%" stop-color="#ffaf00"/><stop offset="31.25%" stop-color="#ffaf00"/><stop offset="31.25%" stop-color="#ffbf00"/><stop offset="32.81%" stop-color="#ffbf00"/><stop offset="32.81%" stop-color="#ffcf00"/><stop offset="34.38%" stop-color="#ffcf00"/><stop offset="34.38%" stop-color="#ffdf00"/><stop offset="35.94%" stop-color="#ffdf00"/><stop offset="35.94%" stop-color="#ffef00"/><stop offset="37.5%" stop-color="#ffef00"/><stop offset="37.5%" stop-color="#ffff00"/><stop offset="39.06%" stop-color="#ffff00"/><stop offset="39.06%" stop-color="#efff10"/><stop offset="40.62%" stop-color="#efff10"/><stop offset="40.62%" stop-color="#dfff20"/><stop offset="42.19%" stop-color="#dfff20"/><stop offset="42.19%" stop-color="#cfff30"/><stop offset="43.75%" stop-color="#cfff30"/><stop offset="43.75%" stop-color="#bfff40"/><stop offset="45.31%" stop-color="#bfff40"/><stop offset="45.31%" stop-color="#afff50"/><stop offset="46.88%" stop-color="#afff50"/><stop offset="46.88%" stop-color="#9fff60"/><stop offset="48.44%" stop-color="#9fff60"/><stop offset="48.44%" stop-color="#8fff70"/><stop offset="50%" stop-color="#8fff70"/><stop offset="50%" stop-color="#80ff80"/><stop offset="51.56%" stop-color="#80ff80"/><stop offset="51.56%" stop-color="#70ff8f"/><stop offset="53.12%" stop-color="#70ff8f"/><stop offset="53.12%" stop-color="#60ff9f"/><stop offset="54.69%" stop-color="#60ff9f"/><stop offset="54.69%" stop-color="#50ffaf"/><stop offset="56.25%" stop-color="#50ffaf"/><stop offset="56.25%" stop-color="#40ffbf"/><stop offset="57.81%" stop-color="#40ffbf"/><stop offset="57.81%" stop-color="#30ffcf"/><stop offset="59.38%" stop-color="#30ffcf"/><stop offset="59.38%" stop-color="#20ffdf"/><stop offset="60.94%" stop-color="#20ffdf"/><stop offset="60.94%" stop-color="#10ffef"/><stop offset="62.5%" stop-color="#10ffef"/><stop offset="62.5%" stop-color="#00ffff"/><stop offset="64.06%" stop-color="#00ffff"/><stop offset="64.06%" stop-color="#00efff"/><stop offset="65.62%" stop-color="#00efff"/><stop offset="65.62%" stop-color="#00dfff"/><stop offset="67.19%" stop-color="#00dfff"/><stop offset="67.19%" stop-color="#00cfff"/><stop offset="68.75%" stop-color="#00cfff"/><stop offset="68.75%" stop-color="#00bfff"/><stop offset="70.31%" stop-color="#00bfff"/><stop offset="70.31%" stop-color="#00afff"/><stop offset="71.88%" stop-color="#00afff"/><stop offset="71.88%" stop-color="#009fff"/><stop offset="73.44%" stop-color="#009fff"/><stop offset="73.44%" stop-color="#008fff"/><stop offset="75%" stop-color="#008fff"/><stop offset="75%" stop-color="#0080ff"/><stop offset="76.56%" stop-color="#0080ff"/><stop offset="76.56%" stop-color="#0070ff"/><stop offset="78.12%" stop-color="#0070ff"/><stop offset="78.12%" stop-color="#0060ff"/><stop offset="79.69%" stop-color="#0060ff"/><stop offset="79.69%" stop-color="#0050ff"/><stop offset="81.25%" stop-color="#0050ff"/><stop offset="81.25%" stop-color="#0040ff"/><stop offset="82.81%" stop-color="#0040ff"/><stop offset="82.81%" stop-color="#0030ff"/><stop offset="84.38%" stop-color="#0030ff"/><stop offset="84.38%" stop-color="#0020ff"/><stop offset="85.94%" stop-color="#0020ff"/><stop offset="85.94%" stop-color="#0010ff"/><stop offset="87.5%" stop-color="#0010ff"/><stop offset="87.5%" stop-color="#0000ef"/><stop offset="89.06%" stop-color="#0000ef"/><stop offset="89.06%" stop-color="#0000df"/><stop offset="90.62%" stop-color="#0000df"/><stop offset="90.62%" stop-color="#0000cf"/><stop offset="92.19%" stop-color="#0000cf"/><stop offset="92.19%" stop-color="#0000bf"/><stop offset="93.75%" stop-color="#0000bf"/><stop offset="93.75%" stop-color="#0000af"/><stop offset="95.31%" stop-color="#0000af"/><stop offset="95.31%" stop-color="#00009f"/><stop offset="96.88%" stop-color="#00009f"/><stop offset="96.88%" stop-color="#00008f"/><stop offset="98.44%" stop-color="#00008f"/><stop offset="98.44%" stop-color="#ffffff"/><stop offset="100%" stop-color="#ffffff"/></linearGradient>
<rect x="528.1" y="10.9" width="11.1" height="140.9" fill="url(#gb)"/>
<rect x="528.1" y="10.9" width="11.1" height="140.9" fill="none" stroke="#222" stroke-width="0.5"/>
<clipPath id="clb"><rect x="0" y="0" width="545.7" height="498"/></clipPath><g clip-path="url(#clb)">
<text x="541.2" y="153.71" font-size="5.3">-1</text>
<text x="541.2" y="140.9" font-size="5.3">0</text>
<text x="541.2" y="128.09" font-size="5.3">1</text>
<text x="541.2" y="115.28" font-size="5.3">2</text>
<text x="541.2" y="102.47" font-size="5.3">3</text>
<text x="541.2" y="89.66" font-size="5.3">4</text>
<text x="541.2" y="76.85" font-size="5.3">5</text>
<text x="541.2" y="64.04" font-size="5.3">6</text>
<text x="541.2" y="51.24" font-size="5.3">7</text>
<text x="541.2" y="38.43" font-size="5.3">8</text>
<text x="541.2" y="25.62" font-size="5.3">9</text>
<text x="541.2" y="12.81" font-size="5.3">10</text>
</g>
<path d="M539.2 151.8h-1.2M528.1 151.8h1.2M539.2 138.99h-1.2M528.1 138.99h1.2M539.2 126.18h-1.2M528.1 126.18h1.2M539.2 113.37h-1.2M528.1 113.37h1.2M539.2 100.56h-1.2M528.1 100.56h1.2M539.2 87.75h-1.2M528.1 87.75h1.2M539.2 74.95h-1.2M528.1 74.95h1.2M539.2 62.14h-1.2M528.1 62.14h1.2M539.2 49.33h-1.2M528.1 49.33h1.2M539.2 36.52h-1.2M528.1 36.52h1.2M539.2 23.71h-1.2M528.1 23.71h1.2M539.2 10.9h-1.2M528.1 10.9h1.2" stroke="#222" stroke-width="0.5" fill="none"/>
<text x="415.3" y="184.9" font-size="11.3" text-anchor="middle" class="cap">(b)</text>
<rect x="88.64" y="222.47" width="5.09" height="5.09" fill="#0000cf"/>
<rect x="73.43" y="232.61" width="5.09" height="5.09" fill="#0000cf"/>
<rect x="93.71" y="242.74" width="5.09" height="5.09" fill="#0000cf"/>
<rect x="73.43" y="257.95" width="5.09" height="5.09" fill="#0000cf"/>
<rect x="63.29" y="263.02" width="5.09" height="5.09" fill="#0000cf"/>
<rect x="58.22" y="273.15" width="5.09" height="5.09" fill="#0000cf"/>
<rect x="83.57" y="273.15" width="5.09" height="5.09" fill="#0000cf"/>
<rect x="88.64" y="273.15" width="5.09" height="5.09" fill="#0000cf"/>
<rect x="58.22" y="283.29" width="5.09" height="5.09" fill="#0000cf"/>
<rect x="78.5" y="283.29" width="5.09" height="5.09" fill="#0000cf"/>
<rect x="73.43" y="288.36" width="5.09" height="5.09" fill="#0000cf"/>
<rect x="78.5" y="288.36" width="5.09" height="5.09" fill="#0000cf"/>
<rect x="58.22" y="293.42" width="5.09" height="5.09" fill="#0000cf"/>
<rect x="83.57" y="293.42" width="5.09" height="5.09" fill="#0000cf"/>
<rect x="108.92" y="293.42" width="5.09" height="5.09" fill="#0000cf"/>
<rect x="58.22" y="298.49" width="5.09" height="5.09" fill="#0000cf"/>
<rect x="78.5" y="298.49" width="5.09" height="5.09" fill="#0000cf"/>
<rect x="88.64" y="298.49" width="5.09" height="5.09" fill="#0000cf"/>
<rect x="103.85" y="298.49" width="5.09" height="5.09" fill="#0000cf"/>
<rect x="43.01" y="303.56" width="5.09" height="5.09" fill="#0000cf"/>
<rect x="58.22" y="303.56" width="5.09" height="5.09" fill="#0000cf"/>
<rect x="78.5" y="303.56" width="5.09" height="5.09" fill="#0000cf"/>
<rect x="88.64" y="303.56" width="5.09" height="5.09" fill="#0000cf"/>
<rect x="68.36" y="308.63" width="5.09" height="5.09" fill="#0000cf"/>
<rect x="83.57" y="313.7" width="5.09" height="5.09" fill="#0000cf"/>
<rect x="58.22" y="318.76" width="5.09" height="5.09" fill="#0000cf"/>
<rect x="78.5" y="318.76" width="5.09" height="5.09" fill="#0000cf"/>
<rect x="83.57" y="323.83" width="5.09" height="5.09" fill="#0000cf"/>
<rect x="48.08" y="328.9" width="5.09" height="5.09" fill="#0000cf"/>
<rect x="53.15" y="328.9" width="5.09" height="5.09" fill="#0000cf"/>
<rect x="58.22" y="328.9" width="5.09" height="5.09" fill="#0000cf"/>
<rect x="73.43" y="328.9" width="5.09" height="5.09" fill="#0000cf"/>
<rect x="83.57" y="328.9" width="5.09" height="5.09" fill="#0000cf"/>
<rect x="88.64" y="328.9" width="5.09" height="5.09" fill="#0000cf"/>
<rect x="98.78" y="328.9" width="5.09" height="5.09" fill="#0000cf"/>
<rect x="43.01" y="333.97" width="5.09" height="5.09" fill="#0000cf"/>
<rect x="53.15" y="333.97" width="5.09" height="5.09" fill="#0000cf"/>
<rect x="58.22" y="333.97" width="5.09" height="5.09" fill="#0000cf"/>
<rect x="68.36" y="333.97" width="5.09" height="5.09" fill="#0000cf"/>
<rect x="93.71" y="333.97" width="5.09" height="5.09" fill="#0000cf"/>
<rect x="48.08" y="339.04" width="5.09" height="5.09" fill="#0000cf"/>
<rect x="93.71" y="339.04" width="5.09" height="5.09" fill="#0000cf"/>
<rect x="98.78" y="339.04" width="5.09" height="5.09" fill="#0000cf"/>
<rect x="103.85" y="339.04" width="5.09" height="5.09" fill="#0000cf"/>
<rect x="108.92" y="339.04" width="5.09" height="5.09" fill="#0000cf"/>
<rect x="83.57" y="344.1" width="5.09" height="5.09" fill="#0000cf"/>
<rect x="68.36" y="349.17" width="5.09" height="5.09" fill="#0000cf"/>
<rect x="83.57" y="349.17" width="5.09" height="5.09" fill="#0000cf"/>
<rect x="88.64" y="349.17" width="5.09" height="5.09" fill="#0000cf"/>
<rect x="93.71" y="349.17" width="5.09" height="5.09" fill="#0000cf"/>
<rect x="98.78" y="349.17" width="5.09" height="5.09" fill="#0000cf"/>
<rect x="113.99" y="349.17" width="5.09" height="5.09" fill="#0000cf"/>
<rect x="53.15" y="354.24" width="5.09" height="5.09" fill="#0000cf"/>
<rect x="78.5" y="354.24" width="5.09" height="5.09" fill="#0000cf"/>
<rect x="83.57" y="354.24" width="5.09" height="5.09" fill="#0000cf"/>
<rect x="88.64" y="354.24" width="5.09" height="5.09" fill="#0000cf"/>
<rect x="93.71" y="354.24" width="5.09" height="5.09" fill="#0000cf"/>
<rect x="98.78" y="354.24" width="5.09" height="5.09" fill="#0000cf"/>
<rect x="48.08" y="359.31" width="5.09" height="5.09" fill="#0000cf"/>
<rect x="68.36" y="359.31" width="5.09" height="5.09" fill="#0000cf"/>
<rect x="73.43" y="359.31" width="5.09" height="5.09" fill="#0000cf"/>
<rect x="78.5" y="359.31" width="5.09" height="5.09" fill="#0000df"/>
<rect x="83.57" y="359.31" width="5.09" height="5.09" fill="#0000df"/>
<rect x="93.71" y="359.31" width="5.09" height="5.09" fill="#0000df"/>
<rect x="98.78" y="359.31" width="5.09" height="5.09" fill="#0000df"/>
<rect x="103.85" y="359.31" width="5.09" height="5.09" fill="#0000cf"/>
<rect x="108.92" y="359.31" width="5.09" height="5.09" fill="#0000cf"/>
<rect x="58.22" y="364.38" width="5.09" height="5.09" fill="#0000cf"/>
<rect x="68.36" y="364.38" width="5.09" height="5.09" fill="#0000df"/>
<rect x="73.43" y="364.38" width="5.09" height="5.09" fill="#0000df"/>
<rect x="78.5" y="364.38" width="5.09" height="5.09" fill="#0000df"/>
<rect x="83.57" y="364.38" width="5.09" height="5.09" fill="#0000df"/>
<rect x="88.64" y="364.38" width="5.09" height="5.09" fill="#0000df"/>
<rect x="93.71" y="364.38" width="5.09" height="5.09" fill="#0000df"/>
<rect x="108.92" y="364.38" width="5.09" height="5.09" fill="#0000cf"/>
<rect x="119.06" y="364.38" width="5.09" height="5.09" fill="#0000cf"/>
<rect x="124.13" y="364.38" width="5.09" height="5.09" fill="#0000cf"/>
<rect x="43.01" y="369.44" width="5.09" height="5.09" fill="#0000cf"/>
<rect x="58.22" y="369.44" width="5.09" height="5.09" fill="#0000cf"/>
<rect x="68.36" y="369.44" width="5.09" height="5.09" fill="#0000df"/>
<rect x="73.43" y="369.44" width="5.09" height="5.09" fill="#0000df"/>
<rect x="78.5" y="369.44" width="5.09" height="5.09" fill="#0000df"/>
<rect x="88.64" y="369.44" width="5.09" height="5.09" fill="#0000df"/>
<rect x="93.71" y="369.44" width="5.09" height="5.09" fill="#0000df"/>
<rect x="98.78" y="369.44" width="5.09" height="5.09" fill="#0000df"/>
<rect x="103.85" y="369.44" width="5.09" height="5.09" fill="#0000df"/>
<rect x="113.99" y="369.44" width="5.09" height="5.09" fill="#0000cf"/>
<rect x="124.13" y="369.44" width="5.09" height="5.09" fill="#0000cf"/>
<rect x="43.01" y="374.51" width="5.09" height="5.09" fill="#0000cf"/>
<rect x="48.08" y="374.51" width="5.09" height="5.09" fill="#0000cf"/>
<rect x="53.15" y="374.51" width="5.09" height="5.09" fill="#0000cf"/>
<rect x="58.22" y="374.51" width="5.09" height="5.09" fill="#0000df"/>
<rect x="68.36" y="374.51" width="5.09" height="5.09" fill="#0000df"/>
<rect x="73.43" y="374.51" width="5.09" height="5.09" fill="#0000df"/>
<rect x="78.5" y="374.51" width="5.09" height="5.09" fill="#0000ef"/>
<rect x="83.57" y="374.51" width="5.09" height="5.09" fill="#0000ef"/>
<rect x="88.64" y="374.51" width="5.09" height="5.09" fill="#0000ef"/>
<rect x="93.71" y="374.51" width="5.09" height="5.09" fill="#0000ef"/>
<rect x="98.78" y="374.51" width="5.09" height="5.09" fill="#0000ef"/>
<rect x="103.85" y="374.51" width="5.09" height="5.09" fill="#0000ef"/>
<rect x="113.99" y="374.51" width="5.09" height="5.09" fill="#0000cf"/>
<rect x="58.22" y="379.58" width="5.09" height="5.09" fill="#0000df"/>
<rect x="63.29" y="379.58" width="5.09" height="5.09" fill="#0000df"/>
<rect x="68.36" y="379.58" width="5.09" height="5.09" fill="#0000df"/>
<rect x="73.43" y="379.58" width="5.09" height="5.09" fill="#0000ef"/>
<rect x="78.5" y="379.58" width="5.09" height="5.09" fill="#0000ef"/>
<rect x="83.57" y="379.58" width="5.09" height="5.09" fill="#0000ef"/>
<rect x="88.64" y="379.58" width="5.09" height="5.09" fill="#0000ef"/>
<rect x="93.71" y="379.58" width="5.09" height="5.09" fill="#0000ef"/>
<rect x="98.78" y="379.58" width="5.09" height="5.09" fill="#0000ef"/>
<rect x="103.85" y="379.58" width="5.09" height="5.09" fill="#0000ef"/>
<rect x="108.92" y="379.58" width="5.09" height="5.09" fill="#0000ef"/>
<rect x="113.99" y="379.58" width="5.09" height="5.09" fill="#0000cf"/>
<rect x="43.01" y="384.65" width="5.09" height="5.09" fill="#0000cf"/>
<rect x="53.15" y="384.65" width="5.09" height="5.09" fill="#0000cf"/>
<rect x="58.22" y="384.65" width="5.09" height="5.09" fill="#0000df"/>
<rect x="63.29" y="384.65" width="5.09" height="5.09" fill="#0000df"/>
<rect x="73.43" y="384.65" width="5.09" height="5.09" fill="#0010ff"/>
<rect x="78.5" y="384.65" width="5.09" height="5.09" fill="#0000ef"/>
<rect x="83.57" y="384.65" width="5.09" height="5.09" fill="#0000ef"/>
<rect x="88.64" y="384.65" width="5.09" height="5.09" fill="#0000ef"/>
<rect x="93.71" y="384.65" width="5.09" height="5.09" fill="#0000ef"/>
<rect x="98.78" y="384.65" width="5.09" height="5.09" fill="#0000ef"/>
<rect x="103.85" y="384.65" width="5.09" height="5.09" fill="#0000ef"/>
<rect x="108.92" y="384.65" width="5.09" height="5.09" fill="#0000ef"/>
<rect x="48.08" y="389.72" width="5.09" height="5.09" fill="#0000cf"/>
<rect x="58.22" y="389.72" width="5.09" height="5.09" fill="#0000df"/>
<rect x="63.29" y="389.72" width="5.09" height="5.09" fill="#0000df"/>
<rect x="68.36" y="389.72" width="5.09" height="5.09" fill="#0000ef"/>
<rect x="73.43" y="389.72" width="5.09" height="5.09" fill="#0000ef"/>
<rect x="78.5" y="389.72" width="5.09" height="5.09" fill="#0000ef"/>
<rect x="83.57" y="389.72" width="5.09" height="5.09" fill="#0000ef"/>
<rect x="88.64" y="389.72" width="5.09" height="5.09" fill="#0000ef"/>
<rect x="93.71" y="389.72" width="5.09" height="5.09" fill="#0000ef"/>
<rect x="98.78" y="389.72" width="5.09" height="5.09" fill="#0000ef"/>
<rect x="103.85" y="389.72" width="5.09" height="5.09" fill="#0000ef"/>
<rect x="53.15" y="394.78" width="5.09" height="5.09" fill="#0000cf"/>
<rect x="58.22" y="394.78" width="5.09" height="5.09" fill="#0000df"/>
<rect x="68.36" y="394.78" width="5.09" height="5.09" fill="#0000ef"/>
<rect x="73.43" y="394.78" width="5.09" height="5.09" fill="#0000ef"/>
<rect x="78.5" y="394.78" width="5.09" height="5.09" fill="#0000ef"/>
<rect x="83.57" y="394.78" width="5.09" height="5.09" fill="#0000ef"/>
<rect x="88.64" y="394.78" width="5.09" height="5.09" fill="#0000ef"/>
<rect x="93.71" y="394.78" width="5.09" height="5.09" fill="#0000ef"/>
<rect x="103.85" y="394.78" width="5.09" height="5.09" fill="#0000df"/>
<rect x="108.92" y="394.78" width="5.09" height="5.09" fill="#0000df"/>
<rect x="58.22" y="399.85" width="5.09" height="5.09" fill="#0000df"/>
<rect x="63.29" y="399.85" width="5.09" height="5.09" fill="#0000df"/>
<rect x="68.36" y="399.85" width="5.09" height="5.09" fill="#0000ef"/>
<rect x="73.43" y="399.85" width="5.09" height="5.09" fill="#0040ff"/>
<rect x="78.5" y="399.85" width="5.09" height="5.09" fill="#0050ff"/>
<rect x="83.57" y="399.85" width="5.09" height="5.09" fill="#0000ef"/>
<rect x="88.64" y="399.85" width="5.09" height="5.09" fill="#0000ef"/>
<rect x="93.71" y="399.85" width="5.09" height="5.09" fill="#0000ef"/>
<rect x="98.78" y="399.85" width="5.09" height="5.09" fill="#0000ef"/>
<rect x="108.92" y="399.85" width="5.09" height="5.09" fill="#0000df"/>
<rect x="58.22" y="404.92" width="5.09" height="5.09" fill="#0000df"/>
<rect x="63.29" y="404.92" width="5.09" height="5.09" fill="#0000ef"/>
<rect x="68.36" y="404.92" width="5.09" height="5.09" fill="#0000ef"/>
<rect x="73.43" y="404.92" width="5.09" height="5.09" fill="#0040ff"/>
<rect x="78.5" y="404.92" width="5.09" height="5.09" fill="#0080ff"/>
<rect x="83.57" y="404.92" width="5.09" height="5.09" fill="#0010ff"/>
<rect x="88.64" y="404.92" width="5.09" height="5.09" fill="#0010ff"/>
<rect x="93.71" y="404.92" width="5.09" height="5.09" fill="#0010ff"/>
<rect x="98.78" y="404.92" width="5.09" height="5.09" fill="#0010ff"/>
<rect x="103.85" y="404.92" width="5.09" height="5.09" fill="#0000df"/>
<rect x="108.92" y="404.92" width="5.09" height="5.09" fill="#0000df"/>
<rect x="124.13" y="404.92" width="5.09" height="5.09" fill="#0000cf"/>
<rect x="63.29" y="409.99" width="5.09" height="5.09" fill="#0000ef"/>
<rect x="68.36" y="409.99" width="5.09" height="5.09" fill="#0000ef"/>
<rect x="73.43" y="409.99" width="5.09" height="5.09" fill="#0040ff"/>
<rect x="78.5" y="409.99" width="5.09" height="5.09" fill="#0080ff"/>
<rect x="83.57" y="409.99" width="5.09" height="5.09" fill="#0050ff"/>
<rect x="88.64" y="409.99" width="5.09" height="5.09" fill="#0010ff"/>
<rect x="93.71" y="409.99" width="5.09" height="5.09" fill="#0010ff"/>
<rect x="98.78" y="409.99" width="5.09" height="5.09" fill="#0010ff"/>
<rect x="103.85" y="409.99" width="5.09" height="5.09" fill="#0000df"/>
<rect x="108.92" y="409.99" width="5.09" height="5.09" fill="#0000df"/>
<rect x="53.15" y="415.06" width="5.09" height="5.09" fill="#0000cf"/>
<rect x="63.29" y="415.06" width="5.09" height="5.09" fill="#0000ef"/>
<rect x="68.36" y="415.06" width="5.09" height="5.09" fill="#0000ef"/>
<rect x="73.43" y="415.06" width="5.09" height="5.09" fill="#0050ff"/>
<rect x="78.5" y="415.06" width="5.09" height="5.09" fill="#00bfff"/>
<rect x="83.57" y="415.06" width="5.09" height="5.09" fill="#0050ff"/>
<rect x="88.64" y="415.06" width="5.09" height="5.09" fill="#0050ff"/>
<rect x="93.71" y="415.06" width="5.09" height="5.09" fill="#0010ff"/>
<rect x="98.78" y="415.06" width="5.09" height="5.09" fill="#0010ff"/>
<rect x="103.85" y="415.06" width="5.09" height="5.09" fill="#0000ef"/>
<rect x="108.92" y="415.06" width="5.09" height="5.09" fill="#0000ef"/>
<rect x="113.99" y="415.06" width="5.09" height="5.09" fill="#0000df"/>
<rect x="119.06" y="415.06" width="5.09" height="5.09" fill="#0000df"/>
<rect x="124.13" y="415.06" width="5.09" height="5.09" fill="#0000cf"/>
<rect x="58.22" y="420.12" width="5.09" height="5.09" fill="#0000df"/>
<rect x="63.29" y="420.12" width="5.09" height="5.09" fill="#0000ef"/>
<rect x="68.36" y="420.12" width="5.09" height="5.09" fill="#0000ef"/>
<rect x="73.43" y="420.12" width="5.09" height="5.09" fill="#0080ff"/>
<rect x="78.5" y="420.12" width="5.09" height="5.09" fill="#00efff"/>
<rect x="83.57" y="420.12" width="5.09" height="5.09" fill="#0080ff"/>
<rect x="88.64" y="420.12" width="5.09" height="5.09" fill="#0010ff"/>
<rect x="93.71" y="420.12" width="5.09" height="5.09" fill="#0080ff"/>
<rect x="98.78" y="420.12" width="5.09" height="5.09" fill="#0010ff"/>
<rect x="103.85" y="420.12" width="5.09" height="5.09" fill="#0000ef"/>
<rect x="108.92" y="420.12" width="5.09" height="5.09" fill="#0000df"/>
<rect x="113.99" y="420.12" width="5.09" height="5.09" fill="#0000df"/>
<rect x="124.13" y="420.12" width="5.09" height="5.09" fill="#0000cf"/>
<rect x="53.15" y="425.19" width="5.09" height="5.09" fill="#0000cf"/>
<rect x="58.22" y="425.19" width="5.09" height="5.09" fill="#0000df"/>
<rect x="63.29" y="425.19" width="5.09" height="5.09" fill="#0000ef"/>
<rect x="68.36" y="425.19" width="5.09" height="5.09" fill="#0000ef"/>
<rect x="73.43" y="425.19" width="5.09" height="5.09" fill="#0080ff"/>
<rect x="78.5" y="425.19" width="5.09" height="5.09" fill="#40ffbf"/>
<rect x="83.57" y="425.19" width="5.09" height="5.09" fill="#00efff"/>
<rect x="88.64" y="425.19" width="5.09" height="5.09" fill="#009fff"/>
<rect x="93.71" y="425.19" width="5.09" height="5.09" fill="#0080ff"/>
<rect x="98.78" y="425.19" width="5.09" height="5.09" fill="#0050ff"/>
<rect x="103.85" y="425.19" width="5.09" height="5.09" fill="#0040ff"/>
<rect x="108.92" y="425.19" width="5.09" height="5.09" fill="#0000df"/>
<rect x="119.06" y="425.19" width="5.09" height="5.09" fill="#0000cf"/>
<rect x="53.15" y="430.26" width="5.09" height="5.09" fill="#0000cf"/>
<rect x="63.29" y="430.26" width="5.09" height="5.09" fill="#0000ef"/>
<rect x="68.36" y="430.26" width="5.09" height="5.09" fill="#0000ef"/>
<rect x="73.43" y="430.26" width="5.09" height="5.09" fill="#00efff"/>
<rect x="78.5" y="430.26" width="5.09" height="5.09" fill="#70ff8f"/>
<rect x="83.57" y="430.26" width="5.09" height="5.09" fill="#ffbf00"/>
<rect x="88.64" y="430.26" width="5.09" height="5.09" fill="#70ff8f"/>
<rect x="93.71" y="430.26" width="5.09" height="5.09" fill="#00efff"/>
<rect x="98.78" y="430.26" width="5.09" height="5.09" fill="#00bfff"/>
<rect x="103.85" y="430.26" width="5.09" height="5.09" fill="#0080ff"/>
<rect x="108.92" y="430.26" width="5.09" height="5.09" fill="#0010ff"/>
<rect x="113.99" y="430.26" width="5.09" height="5.09" fill="#0000df"/>
<rect x="124.13" y="430.26" width="5.09" height="5.09" fill="#0000cf"/>
<rect x="129.2" y="430.26" width="5.09" height="5.09" fill="#0000cf"/>
<rect x="43.01" y="435.33" width="5.09" height="5.09" fill="#0000cf"/>
<rect x="48.08" y="435.33" width="5.09" height="5.09" fill="#0000cf"/>
<rect x="53.15" y="435.33" width="5.09" height="5.09" fill="#0000df"/>
<rect x="63.29" y="435.33" width="5.09" height="5.09" fill="#0000ef"/>
<rect x="68.36" y="435.33" width="5.09" height="5.09" fill="#0080ff"/>
<rect x="73.43" y="435.33" width="5.09" height="5.09" fill="#40ffbf"/>
<rect x="78.5" y="435.33" width="5.09" height="5.09" fill="#ffef00"/>
<rect x="83.57" y="435.33" width="5.09" height="5.09" fill="#ff1000"/>
<rect x="88.64" y="435.33" width="5.09" height="5.09" fill="#ffef00"/>
<rect x="93.71" y="435.33" width="5.09" height="5.09" fill="#70ff8f"/>
<rect x="98.78" y="435.33" width="5.09" height="5.09" fill="#00efff"/>
<rect x="103.85" y="435.33" width="5.09" height="5.09" fill="#0080ff"/>
<rect x="108.92" y="435.33" width="5.09" height="5.09" fill="#0010ff"/>
<rect x="113.99" y="435.33" width="5.09" height="5.09" fill="#0000ef"/>
<rect x="119.06" y="435.33" width="5.09" height="5.09" fill="#0000df"/>
<rect x="124.13" y="435.33" width="5.09" height="5.09" fill="#0000df"/>
<rect x="129.2" y="435.33" width="5.09" height="5.09" fill="#0000cf"/>
<rect x="134.27" y="435.33" width="5.09" height="5.09" fill="#0000cf"/>
<rect x="37.94" y="440.4" width="5.09" height="5.09" fill="#0000cf"/>
<rect x="43.01" y="440.4" width="5.09" height="5.09" fill="#0000cf"/>
<rect x="48.08" y="440.4" width="5.09" height="5.09" fill="#0000df"/>
<rect x="53.15" y="440.4" width="5.09" height="5.09" fill="#0000df"/>
<rect x="58.22" y="440.4" width="5.09" height="5.09" fill="#0000df"/>
<rect x="63.29" y="440.4" width="5.09" height="5.09" fill="#0000ef"/>
<rect x="68.36" y="440.4" width="5.09" height="5.09" fill="#0040ff"/>
<rect x="73.43" y="440.4" width="5.09" height="5.09" fill="#40ffbf"/>
<rect x="78.5" y="440.4" width="5.09" height="5.09" fill="#8f0000"/>
<rect x="83.57" y="440.4" width="5.09" height="5.09" fill="#ff4000"/>
<rect x="88.64" y="440.4" width="5.09" height="5.09" fill="#ff1000"/>
<rect x="93.71" y="440.4" width="5.09" height="5.09" fill="#bfff40"/>
<rect x="98.78" y="440.4" width="5.09" height="5.09" fill="#70ff8f"/>
<rect x="103.85" y="440.4" width="5.09" height="5.09" fill="#0050ff"/>
<rect x="108.92" y="440.4" width="5.09" height="5.09" fill="#0080ff"/>
<rect x="113.99" y="440.4" width="5.09" height="5.09" fill="#0000ef"/>
<rect x="119.06" y="440.4" width="5.09" height="5.09" fill="#0000df"/>
<rect x="124.13" y="440.4" width="5.09" height="5.09" fill="#0000df"/>
<rect x="129.2" y="440.4" width="5.09" height="5.09" fill="#0000cf"/>
<rect x="48.08" y="445.46" width="5.09" height="5.09" fill="#0000df"/>
<rect x="53.15" y="445.46" width="5.09" height="5.09" fill="#0000df"/>
<rect x="58.22" y="445.46" width="5.09" height="5.09" fill="#0000ef"/>
<rect x="63.29" y="445.46" width="5.09" height="5.09" fill="#0080ff"/>
<rect x="68.36" y="445.46" width="5.09" height="5.09" fill="#009fff"/>
<rect x="73.43" y="445.46" width="5.09" height="5.09" fill="#ffef00"/>
<rect x="78.5" y="445.46" width="5.09" height="5.09" fill="#8f0000"/>
<rect x="83.57" y="445.46" width="5.09" height="5.09" fill="#ff4000"/>
<rect x="88.64" y="445.46" width="5.09" height="5.09" fill="#ff9f00"/>
<rect x="93.71" y="445.46" width="5.09" height="5.09" fill="#ffef00"/>
<rect x="98.78" y="445.46" width="5.09" height="5.09" fill="#ffef00"/>
<rect x="103.85" y="445.46" width="5.09" height="5.09" fill="#00bfff"/>
<rect x="108.92" y="445.46" width="5.09" height="5.09" fill="#0040ff"/>
<rect x="113.99" y="445.46" width="5.09" height="5.09" fill="#0000ef"/>
<rect x="119.06" y="445.46" width="5.09" height="5.09" fill="#0000df"/>
<rect x="124.13" y="445.46" width="5.09" height="5.09" fill="#0000cf"/>
<rect x="134.27" y="445.46" width="5.09" height="5.09" fill="#0000cf"/>
<rect x="43.01" y="450.53" width="5.09" height="5.09" fill="#0000cf"/>
<rect x="58.22" y="450.53" width="5.09" height="5.09" fill="#0000df"/>
<rect x="63.29" y="450.53" width="5.09" height="5.09" fill="#0000ef"/>
<rect x="68.36" y="450.53" width="5.09" height="5.09" fill="#0040ff"/>
<rect x="73.43" y="450.53" width="5.09" height="5.09" fill="#70ff8f"/>
<rect x="78.5" y="450.53" width="5.09" height="5.09" fill="#ff9f00"/>
<rect x="83.57" y="450.53" width="5.09" height="5.09" fill="#bfff40"/>
<rect x="88.64" y="450.53" width="5.09" height="5.09" fill="#ffef00"/>
<rect x="93.71" y="450.53" width="5.09" height="5.09" fill="#bfff40"/>
<rect x="98.78" y="450.53" width="5.09" height="5.09" fill="#00efff"/>
<rect x="103.85" y="450.53" width="5.09" height="5.09" fill="#0080ff"/>
<rect x="108.92" y="450.53" width="5.09" height="5.09" fill="#0000ef"/>
<rect x="113.99" y="450.53" width="5.09" height="5.09" fill="#0000df"/>
<rect x="119.06" y="450.53" width="5.09" height="5.09" fill="#0000df"/>
<rect x="124.13" y="450.53" width="5.09" height="5.09" fill="#0000cf"/>
<rect x="129.2" y="450.53" width="5.09" height="5.09" fill="#0000cf"/>
<rect x="139.34" y="450.53" width="5.09" height="5.09" fill="#0000cf"/>
<path d="M32.87 202.2V455.6M37.94 202.2V455.6M43.01 202.2V455.6M48.08 202.2V455.6M53.15 202.2V455.6M58.22 202.2V455.6M63.29 202.2V455.6M68.36 202.2V455.6M73.43 202.2V455.6M78.5 202.2V455.6M83.57 202.2V455.6M88.64 202.2V455.6M93.71 202.2V455.6M98.78 202.2V455.6M103.85 202.2V455.6M108.92 202.2V455.6M113.99 202.2V455.6M119.06 202.2V455.6M124.13 202.2V455.6M129.2 202.2V455.6M134.27 202.2V455.6M139.34 202.2V455.6M144.41 202.2V455.6M149.48 202.2V455.6M154.55 202.2V455.6M159.62 202.2V455.6M164.69 202.2V455.6M169.76 202.2V455.6M174.83 202.2V455.6M179.9 202.2V455.6M184.97 202.2V455.6M190.04 202.2V455.6M195.11 202.2V455.6M200.18 202.2V455.6M205.25 202.2V455.6M210.32 202.2V455.6M215.39 202.2V455.6M220.46 202.2V455.6M225.53 202.2V455.6M27.8 207.27H230.6M27.8 212.34H230.6M27.8 217.4H230.6M27.8 222.47H230.6M27.8 227.54H230.6M27.8 232.61H230.6M27.8 237.68H230.6M27.8 242.74H230.6M27.8 247.81H230.6M27.8 252.88H230.6M27.8 257.95H230.6M27.8 263.02H230.6M27.8 268.08H230.6M27.8 273.15H230.6M27.8 278.22H230.6M27.8 283.29H230.6M27.8 288.36H230.6M27.8 293.42H230.6M27.8 298.49H230.6M27.8 303.56H230.6M27.8 308.63H230.6M27.8 313.7H230.6M27.8 318.76H230.6M27.8 323.83H230.6M27.8 328.9H230.6M27.8 333.97H230.6M27.8 339.04H230.6M27.8 344.1H230.6M27.8 349.17H230.6M27.8 354.24H230.6M27.8 359.31H230.6M27.8 364.38H230.6M27.8 369.44H230.6M27.8 374.51H230.6M27.8 379.58H230.6M27.8 384.65H230.6M27.8 389.72H230.6M27.8 394.78H230.6M27.8 399.85H230.6M27.8 404.92H230.6M27.8 409.99H230.6M27.8 415.06H230.6M27.8 420.12H230.6M27.8 425.19H230.6M27.8 430.26H230.6M27.8 435.33H230.6M27.8 440.4H230.6M27.8 445.46H230.6M27.8 450.53H230.6" stroke="rgba(0,0,0,0.85)" stroke-width="0.7" fill="none"/>
<rect x="27.8" y="202.2" width="202.8" height="253.4" fill="none" stroke="#222" stroke-width="0.6"/>
<text x="26" y="465" font-size="7.3" text-anchor="middle">-100</text>
<text x="51.35" y="465" font-size="7.3" text-anchor="middle">-90</text>
<text x="76.7" y="465" font-size="7.3" text-anchor="middle">-80</text>
<text x="102.05" y="465" font-size="7.3" text-anchor="middle">-70</text>
<text x="127.4" y="465" font-size="7.3" text-anchor="middle">-60</text>
<text x="152.75" y="465" font-size="7.3" text-anchor="middle">-50</text>
<text x="178.1" y="465" font-size="7.3" text-anchor="middle">-40</text>
<text x="203.45" y="465" font-size="7.3" text-anchor="middle">-30</text>
<text x="228.8" y="465" font-size="7.3" text-anchor="middle">-20</text>
<text x="26.4" y="458.12" font-size="7" text-anchor="end">0</text>
<text x="26.4" y="432.78" font-size="7" text-anchor="end">10</text>
<text x="26.4" y="407.44" font-size="7" text-anchor="end">20</text>
<text x="26.4" y="382.1" font-size="7" text-anchor="end">30</text>
<text x="26.4" y="356.76" font-size="7" text-anchor="end">40</text>
<text x="26.4" y="331.42" font-size="7" text-anchor="end">50</text>
<text x="26.4" y="306.08" font-size="7" text-anchor="end">60</text>
<text x="26.4" y="280.74" font-size="7" text-anchor="end">70</text>
<text x="26.4" y="255.4" font-size="7" text-anchor="end">80</text>
<text x="26.4" y="230.06" font-size="7" text-anchor="end">90</text>
<text x="26.4" y="204.72" font-size="7" text-anchor="end">100</text>
<path d="M27.8 455.6v-2M27.8 202.2v2M53.15 455.6v-2M53.15 202.2v2M78.5 455.6v-2M78.5 202.2v2M103.85 455.6v-2M103.85 202.2v2M129.2 455.6v-2M129.2 202.2v2M154.55 455.6v-2M154.55 202.2v2M179.9 455.6v-2M179.9 202.2v2M205.25 455.6v-2M205.25 202.2v2M230.6 455.6v-2M230.6 202.2v2M27.8 455.6h2M230.6 455.6h-2M27.8 430.26h2M230.6 430.26h-2M27.8 404.92h2M230.6 404.92h-2M27.8 379.58h2M230.6 379.58h-2M27.8 354.24h2M230.6 354.24h-2M27.8 328.9h2M230.6 328.9h-2M27.8 303.56h2M230.6 303.56h-2M27.8 278.22h2M230.6 278.22h-2M27.8 252.88h2M230.6 252.88h-2M27.8 227.54h2M230.6 227.54h-2M27.8 202.2h2M230.6 202.2h-2" stroke="#222" stroke-width="0.5" fill="none"/>
<text x="129.2" y="196.7" font-size="7.2" text-anchor="middle">Heat map</text>
<text x="129.2" y="473.3" font-size="7.15" text-anchor="middle">Mean RSSI [dBm]</text>
<text transform="translate(9.2 330.2) rotate(-90)" font-size="6.9" text-anchor="middle">Positioning Error [m]</text>
<linearGradient id="gc" x1="0" y1="0" x2="0" y2="1"><stop offset="0%" stop-color="#800000"/><stop offset="1.56%" stop-color="#800000"/><stop offset="1.56%" stop-color="#8f0000"/><stop offset="3.12%" stop-color="#8f0000"/><stop offset="3.12%" stop-color="#9f0000"/><stop offset="4.69%" stop-color="#9f0000"/><stop offset="4.69%" stop-color="#af0000"/><stop offset="6.25%" stop-color="#af0000"/><stop offset="6.25%" stop-color="#bf0000"/><stop offset="7.81%" stop-color="#bf0000"/><stop offset="7.81%" stop-color="#cf0000"/><stop offset="9.38%" stop-color="#cf0000"/><stop offset="9.38%" stop-color="#df0000"/><stop offset="10.94%" stop-color="#df0000"/><stop offset="10.94%" stop-color="#ef0000"/><stop offset="12.5%" stop-color="#ef0000"/><stop offset="12.5%" stop-color="#ff0000"/><stop offset="14.06%" stop-color="#ff0000"/><stop offset="14.06%" stop-color="#ff1000"/><stop offset="15.62%" stop-color="#ff1000"/><stop offset="15.62%" stop-color="#ff2000"/><stop offset="17.19%" stop-color="#ff2000"/><stop offset="17.19%" stop-color="#ff3000"/><stop offset="18.75%" stop-color="#ff3000"/><stop offset="18.75%" stop-color="#ff4000"/><stop offset="20.31%" stop-color="#ff4000"/><stop offset="20.31%" stop-color="#ff5000"/><stop offset="21.88%" stop-color="#ff5000"/><stop offset="21.88%" stop-color="#ff6000"/><stop offset="23.44%" stop-color="#ff6000"/><stop offset="23.44%" stop-color="#ff7000"/><stop offset="25%" stop-color="#ff7000"/><stop offset="25%" stop-color="#ff8000"/><stop offset="26.56%" stop-color="#ff8000"/><stop offset="26.56%" stop-color="#ff8f00"/><stop offset="28.12%" stop-color="#ff8f00"/><stop offset="28.12%" stop-color="#ff9f00"/><stop offset="29.69%" stop-color="#ff9f00"/><stop offset="29.69%" stop-color="#ffaf00"/><stop offset="31.25%" stop-color="#ffaf00"/><stop offset="31.25%" stop-color="#ffbf00"/><stop offset="32.81%" stop-color="#ffbf00"/><stop offset="32.81%" stop-color="#ffcf00"/><stop offset="34.38%" stop-color="#ffcf00"/><stop offset="34.38%" stop-color="#ffdf00"/><stop offset="35.94%" stop-color="#ffdf00"/><stop offset="35.94%" stop-color="#ffef00"/><stop offset="37.5%" stop-color="#ffef00"/><stop offset="37.5%" stop-color="#ffff00"/><stop offset="39.06%" stop-color="#ffff00"/><stop offset="39.06%" stop-color="#efff10"/><stop offset="40.62%" stop-color="#efff10"/><stop offset="40.62%" stop-color="#dfff20"/><stop offset="42.19%" stop-color="#dfff20"/><stop offset="42.19%" stop-color="#cfff30"/><stop offset="43.75%" stop-color="#cfff30"/><stop offset="43.75%" stop-color="#bfff40"/><stop offset="45.31%" stop-color="#bfff40"/><stop offset="45.31%" stop-color="#afff50"/><stop offset="46.88%" stop-color="#afff50"/><stop offset="46.88%" stop-color="#9fff60"/><stop offset="48.44%" stop-color="#9fff60"/><stop offset="48.44%" stop-color="#8fff70"/><stop offset="50%" stop-color="#8fff70"/><stop offset="50%" stop-color="#80ff80"/><stop offset="51.56%" stop-color="#80ff80"/><stop offset="51.56%" stop-color="#70ff8f"/><stop offset="53.12%" stop-color="#70ff8f"/><stop offset="53.12%" stop-color="#60ff9f"/><stop offset="54.69%" stop-color="#60ff9f"/><stop offset="54.69%" stop-color="#50ffaf"/><stop offset="56.25%" stop-color="#50ffaf"/><stop offset="56.25%" stop-color="#40ffbf"/><stop offset="57.81%" stop-color="#40ffbf"/><stop offset="57.81%" stop-color="#30ffcf"/><stop offset="59.38%" stop-color="#30ffcf"/><stop offset="59.38%" stop-color="#20ffdf"/><stop offset="60.94%" stop-color="#20ffdf"/><stop offset="60.94%" stop-color="#10ffef"/><stop offset="62.5%" stop-color="#10ffef"/><stop offset="62.5%" stop-color="#00ffff"/><stop offset="64.06%" stop-color="#00ffff"/><stop offset="64.06%" stop-color="#00efff"/><stop offset="65.62%" stop-color="#00efff"/><stop offset="65.62%" stop-color="#00dfff"/><stop offset="67.19%" stop-color="#00dfff"/><stop offset="67.19%" stop-color="#00cfff"/><stop offset="68.75%" stop-color="#00cfff"/><stop offset="68.75%" stop-color="#00bfff"/><stop offset="70.31%" stop-color="#00bfff"/><stop offset="70.31%" stop-color="#00afff"/><stop offset="71.88%" stop-color="#00afff"/><stop offset="71.88%" stop-color="#009fff"/><stop offset="73.44%" stop-color="#009fff"/><stop offset="73.44%" stop-color="#008fff"/><stop offset="75%" stop-color="#008fff"/><stop offset="75%" stop-color="#0080ff"/><stop offset="76.56%" stop-color="#0080ff"/><stop offset="76.56%" stop-color="#0070ff"/><stop offset="78.12%" stop-color="#0070ff"/><stop offset="78.12%" stop-color="#0060ff"/><stop offset="79.69%" stop-color="#0060ff"/><stop offset="79.69%" stop-color="#0050ff"/><stop offset="81.25%" stop-color="#0050ff"/><stop offset="81.25%" stop-color="#0040ff"/><stop offset="82.81%" stop-color="#0040ff"/><stop offset="82.81%" stop-color="#0030ff"/><stop offset="84.38%" stop-color="#0030ff"/><stop offset="84.38%" stop-color="#0020ff"/><stop offset="85.94%" stop-color="#0020ff"/><stop offset="85.94%" stop-color="#0010ff"/><stop offset="87.5%" stop-color="#0010ff"/><stop offset="87.5%" stop-color="#0000ef"/><stop offset="89.06%" stop-color="#0000ef"/><stop offset="89.06%" stop-color="#0000df"/><stop offset="90.62%" stop-color="#0000df"/><stop offset="90.62%" stop-color="#0000cf"/><stop offset="92.19%" stop-color="#0000cf"/><stop offset="92.19%" stop-color="#0000bf"/><stop offset="93.75%" stop-color="#0000bf"/><stop offset="93.75%" stop-color="#0000af"/><stop offset="95.31%" stop-color="#0000af"/><stop offset="95.31%" stop-color="#00009f"/><stop offset="96.88%" stop-color="#00009f"/><stop offset="96.88%" stop-color="#00008f"/><stop offset="98.44%" stop-color="#00008f"/><stop offset="98.44%" stop-color="#ffffff"/><stop offset="100%" stop-color="#ffffff"/></linearGradient>
<rect x="241.3" y="202.6" width="14.7" height="252.8" fill="url(#gc)"/>
<rect x="241.3" y="202.6" width="14.7" height="252.8" fill="none" stroke="#222" stroke-width="0.5"/>
<text x="257.8" y="454.04" font-size="7.2">0</text>
<text x="257.8" y="414.54" font-size="7.2">20</text>
<text x="257.8" y="375.04" font-size="7.2">40</text>
<text x="257.8" y="335.54" font-size="7.2">60</text>
<text x="257.8" y="296.04" font-size="7.2">80</text>
<text x="257.8" y="256.54" font-size="7.2">10</text>
<text x="257.8" y="217.04" font-size="7.2">12</text>
<path d="M256 451.45h-1.2M241.3 451.45h1.2M256 411.95h-1.2M241.3 411.95h1.2M256 372.45h-1.2M241.3 372.45h1.2M256 332.95h-1.2M241.3 332.95h1.2M256 293.45h-1.2M241.3 293.45h1.2M256 253.95h-1.2M241.3 253.95h1.2M256 214.45h-1.2M241.3 214.45h1.2" stroke="#222" stroke-width="0.5" fill="none"/>
<text x="134.4" y="494.3" font-size="11.3" text-anchor="middle" class="cap">(c)</text>
<rect x="430.08" y="222.46" width="5.09" height="5.09" fill="#0000cf"/>
<rect x="425.01" y="232.6" width="5.09" height="5.09" fill="#0000cf"/>
<rect x="445.29" y="242.73" width="5.09" height="5.09" fill="#0000cf"/>
<rect x="379.38" y="257.93" width="5.09" height="5.09" fill="#0000cf"/>
<rect x="359.1" y="262.99" width="5.09" height="5.09" fill="#0000cf"/>
<rect x="343.89" y="273.12" width="5.09" height="5.09" fill="#0000cf"/>
<rect x="404.73" y="273.12" width="5.09" height="5.09" fill="#0000cf"/>
<rect x="414.87" y="273.12" width="5.09" height="5.09" fill="#0000cf"/>
<rect x="338.82" y="283.26" width="5.09" height="5.09" fill="#0000cf"/>
<rect x="430.08" y="283.26" width="5.09" height="5.09" fill="#0000cf"/>
<rect x="359.1" y="288.32" width="5.09" height="5.09" fill="#0000cf"/>
<rect x="404.73" y="288.32" width="5.09" height="5.09" fill="#0000cf"/>
<rect x="343.89" y="293.39" width="5.09" height="5.09" fill="#0000cf"/>
<rect x="435.15" y="293.39" width="5.09" height="5.09" fill="#0000cf"/>
<rect x="359.1" y="298.45" width="5.09" height="5.09" fill="#0000cf"/>
<rect x="409.8" y="298.45" width="5.09" height="5.09" fill="#0000cf"/>
<rect x="435.15" y="298.45" width="5.09" height="5.09" fill="#0000cf"/>
<rect x="440.22" y="298.45" width="5.09" height="5.09" fill="#0000cf"/>
<rect x="323.61" y="303.52" width="5.09" height="5.09" fill="#0000cf"/>
<rect x="359.1" y="303.52" width="5.09" height="5.09" fill="#0000cf"/>
<rect x="379.38" y="303.52" width="5.09" height="5.09" fill="#0000cf"/>
<rect x="440.22" y="303.52" width="5.09" height="5.09" fill="#0000cf"/>
<rect x="359.1" y="308.59" width="5.09" height="5.09" fill="#0000cf"/>
<rect x="425.01" y="313.65" width="5.09" height="5.09" fill="#0000cf"/>
<rect x="348.96" y="318.72" width="5.09" height="5.09" fill="#0000cf"/>
<rect x="430.08" y="318.72" width="5.09" height="5.09" fill="#0000cf"/>
<rect x="389.52" y="323.78" width="5.09" height="5.09" fill="#0000cf"/>
<rect x="465.57" y="323.78" width="5.09" height="5.09" fill="#0000cf"/>
<rect x="328.68" y="328.85" width="5.09" height="5.09" fill="#0000cf"/>
<rect x="333.75" y="328.85" width="5.09" height="5.09" fill="#0000cf"/>
<rect x="364.17" y="328.85" width="5.09" height="5.09" fill="#0000cf"/>
<rect x="369.24" y="328.85" width="5.09" height="5.09" fill="#0000cf"/>
<rect x="379.38" y="328.85" width="5.09" height="5.09" fill="#0000cf"/>
<rect x="384.45" y="328.85" width="5.09" height="5.09" fill="#0000cf"/>
<rect x="435.15" y="328.85" width="5.09" height="5.09" fill="#0000cf"/>
<rect x="445.29" y="328.85" width="5.09" height="5.09" fill="#0000cf"/>
<rect x="323.61" y="333.92" width="5.09" height="5.09" fill="#0000cf"/>
<rect x="333.75" y="333.92" width="5.09" height="5.09" fill="#0000cf"/>
<rect x="338.82" y="333.92" width="5.09" height="5.09" fill="#0000cf"/>
<rect x="369.24" y="333.92" width="5.09" height="5.09" fill="#0000cf"/>
<rect x="384.45" y="333.92" width="5.09" height="5.09" fill="#0000cf"/>
<rect x="425.01" y="333.92" width="5.09" height="5.09" fill="#0000cf"/>
<rect x="338.82" y="338.98" width="5.09" height="5.09" fill="#0000cf"/>
<rect x="404.73" y="338.98" width="5.09" height="5.09" fill="#0000cf"/>
<rect x="430.08" y="338.98" width="5.09" height="5.09" fill="#0000cf"/>
<rect x="435.15" y="338.98" width="5.09" height="5.09" fill="#0000cf"/>
<rect x="440.22" y="338.98" width="5.09" height="5.09" fill="#0000cf"/>
<rect x="480.78" y="338.98" width="5.09" height="5.09" fill="#0000cf"/>
<rect x="404.73" y="344.05" width="5.09" height="5.09" fill="#0000cf"/>
<rect x="414.87" y="344.05" width="5.09" height="5.09" fill="#0000cf"/>
<rect x="384.45" y="349.11" width="5.09" height="5.09" fill="#0000cf"/>
<rect x="394.59" y="349.11" width="5.09" height="5.09" fill="#0000cf"/>
<rect x="425.01" y="349.11" width="5.09" height="5.09" fill="#0000cf"/>
<rect x="430.08" y="349.11" width="5.09" height="5.09" fill="#0000cf"/>
<rect x="435.15" y="349.11" width="5.09" height="5.09" fill="#0000cf"/>
<rect x="440.22" y="349.11" width="5.09" height="5.09" fill="#0000cf"/>
<rect x="465.57" y="349.11" width="5.09" height="5.09" fill="#0000cf"/>
<rect x="333.75" y="354.18" width="5.09" height="5.09" fill="#0000cf"/>
<rect x="409.8" y="354.18" width="5.09" height="5.09" fill="#0000cf"/>
<rect x="419.94" y="354.18" width="5.09" height="5.09" fill="#0000cf"/>
<rect x="425.01" y="354.18" width="5.09" height="5.09" fill="#0000cf"/>
<rect x="430.08" y="354.18" width="5.09" height="5.09" fill="#0000cf"/>
<rect x="435.15" y="354.18" width="5.09" height="5.09" fill="#0000cf"/>
<rect x="338.82" y="359.25" width="5.09" height="5.09" fill="#0000cf"/>
<rect x="359.1" y="359.25" width="5.09" height="5.09" fill="#0000cf"/>
<rect x="364.17" y="359.25" width="5.09" height="5.09" fill="#0000cf"/>
<rect x="369.24" y="359.25" width="5.09" height="5.09" fill="#0000cf"/>
<rect x="389.52" y="359.25" width="5.09" height="5.09" fill="#0000cf"/>
<rect x="394.59" y="359.25" width="5.09" height="5.09" fill="#0000cf"/>
<rect x="399.66" y="359.25" width="5.09" height="5.09" fill="#0000cf"/>
<rect x="404.73" y="359.25" width="5.09" height="5.09" fill="#0000cf"/>
<rect x="419.94" y="359.25" width="5.09" height="5.09" fill="#0000cf"/>
<rect x="430.08" y="359.25" width="5.09" height="5.09" fill="#0000cf"/>
<rect x="435.15" y="359.25" width="5.09" height="5.09" fill="#0000cf"/>
<rect x="440.22" y="359.25" width="5.09" height="5.09" fill="#0000cf"/>
<rect x="445.29" y="359.25" width="5.09" height="5.09" fill="#0000cf"/>
<rect x="455.43" y="359.25" width="5.09" height="5.09" fill="#0000cf"/>
<rect x="460.5" y="359.25" width="5.09" height="5.09" fill="#0000cf"/>
<rect x="338.82" y="364.31" width="5.09" height="5.09" fill="#0000cf"/>
<rect x="379.38" y="364.31" width="5.09" height="5.09" fill="#0000cf"/>
<rect x="384.45" y="364.31" width="5.09" height="5.09" fill="#0000cf"/>
<rect x="419.94" y="364.31" width="5.09" height="5.09" fill="#0000cf"/>
<rect x="425.01" y="364.31" width="5.09" height="5.09" fill="#0000cf"/>
<rect x="430.08" y="364.31" width="5.09" height="5.09" fill="#0000cf"/>
<rect x="445.29" y="364.31" width="5.09" height="5.09" fill="#0000cf"/>
<rect x="450.36" y="364.31" width="5.09" height="5.09" fill="#0000cf"/>
<rect x="455.43" y="364.31" width="5.09" height="5.09" fill="#0000cf"/>
<rect x="485.85" y="364.31" width="5.09" height="5.09" fill="#0000cf"/>
<rect x="328.68" y="369.38" width="5.09" height="5.09" fill="#0000cf"/>
<rect x="343.89" y="369.38" width="5.09" height="5.09" fill="#0000cf"/>
<rect x="359.1" y="369.38" width="5.09" height="5.09" fill="#0000cf"/>
<rect x="389.52" y="369.38" width="5.09" height="5.09" fill="#0000cf"/>
<rect x="394.59" y="369.38" width="5.09" height="5.09" fill="#0000cf"/>
<rect x="399.66" y="369.38" width="5.09" height="5.09" fill="#0000cf"/>
<rect x="414.87" y="369.38" width="5.09" height="5.09" fill="#0000cf"/>
<rect x="419.94" y="369.38" width="5.09" height="5.09" fill="#0000cf"/>
<rect x="425.01" y="369.38" width="5.09" height="5.09" fill="#0000cf"/>
<rect x="430.08" y="369.38" width="5.09" height="5.09" fill="#0000df"/>
<rect x="435.15" y="369.38" width="5.09" height="5.09" fill="#0000df"/>
<rect x="440.22" y="369.38" width="5.09" height="5.09" fill="#0000df"/>
<rect x="445.29" y="369.38" width="5.09" height="5.09" fill="#0000df"/>
<rect x="450.36" y="369.38" width="5.09" height="5.09" fill="#0000df"/>
<rect x="455.43" y="369.38" width="5.09" height="5.09" fill="#0000cf"/>
<rect x="460.5" y="369.38" width="5.09" height="5.09" fill="#0000cf"/>
<rect x="480.78" y="369.38" width="5.09" height="5.09" fill="#0000cf"/>
<rect x="323.61" y="374.44" width="5.09" height="5.09" fill="#0000cf"/>
<rect x="328.68" y="374.44" width="5.09" height="5.09" fill="#0000cf"/>
<rect x="333.75" y="374.44" width="5.09" height="5.09" fill="#0000cf"/>
<rect x="338.82" y="374.44" width="5.09" height="5.09" fill="#0000cf"/>
<rect x="359.1" y="374.44" width="5.09" height="5.09" fill="#0000cf"/>
<rect x="374.31" y="374.44" width="5.09" height="5.09" fill="#0000cf"/>
<rect x="379.38" y="374.44" width="5.09" height="5.09" fill="#0000cf"/>
<rect x="384.45" y="374.44" width="5.09" height="5.09" fill="#0000cf"/>
<rect x="394.59" y="374.44" width="5.09" height="5.09" fill="#0000cf"/>
<rect x="399.66" y="374.44" width="5.09" height="5.09" fill="#0000cf"/>
<rect x="404.73" y="374.44" width="5.09" height="5.09" fill="#0000cf"/>
<rect x="409.8" y="374.44" width="5.09" height="5.09" fill="#0000cf"/>
<rect x="414.87" y="374.44" width="5.09" height="5.09" fill="#0040ff"/>
<rect x="425.01" y="374.44" width="5.09" height="5.09" fill="#0000df"/>
<rect x="430.08" y="374.44" width="5.09" height="5.09" fill="#0000df"/>
<rect x="435.15" y="374.44" width="5.09" height="5.09" fill="#0000df"/>
<rect x="440.22" y="374.44" width="5.09" height="5.09" fill="#0000df"/>
<rect x="445.29" y="374.44" width="5.09" height="5.09" fill="#0000df"/>
<rect x="450.36" y="374.44" width="5.09" height="5.09" fill="#0000df"/>
<rect x="455.43" y="374.44" width="5.09" height="5.09" fill="#0000df"/>
<rect x="338.82" y="379.51" width="5.09" height="5.09" fill="#0000cf"/>
<rect x="343.89" y="379.51" width="5.09" height="5.09" fill="#0000cf"/>
<rect x="354.03" y="379.51" width="5.09" height="5.09" fill="#0000cf"/>
<rect x="359.1" y="379.51" width="5.09" height="5.09" fill="#0000cf"/>
<rect x="364.17" y="379.51" width="5.09" height="5.09" fill="#0000cf"/>
<rect x="369.24" y="379.51" width="5.09" height="5.09" fill="#0000cf"/>
<rect x="384.45" y="379.51" width="5.09" height="5.09" fill="#0000cf"/>
<rect x="394.59" y="379.51" width="5.09" height="5.09" fill="#0000cf"/>
<rect x="409.8" y="379.51" width="5.09" height="5.09" fill="#0000df"/>
<rect x="419.94" y="379.51" width="5.09" height="5.09" fill="#0000df"/>
<rect x="425.01" y="379.51" width="5.09" height="5.09" fill="#0000df"/>
<rect x="430.08" y="379.51" width="5.09" height="5.09" fill="#0000df"/>
<rect x="435.15" y="379.51" width="5.09" height="5.09" fill="#0000df"/>
<rect x="440.22" y="379.51" width="5.09" height="5.09" fill="#0000df"/>
<rect x="445.29" y="379.51" width="5.09" height="5.09" fill="#0000df"/>
<rect x="450.36" y="379.51" width="5.09" height="5.09" fill="#0000df"/>
<rect x="460.5" y="379.51" width="5.09" height="5.09" fill="#0000cf"/>
<rect x="470.64" y="379.51" width="5.09" height="5.09" fill="#0000cf"/>
<rect x="485.85" y="379.51" width="5.09" height="5.09" fill="#0000cf"/>
<rect x="323.61" y="384.58" width="5.09" height="5.09" fill="#0000cf"/>
<rect x="328.68" y="384.58" width="5.09" height="5.09" fill="#0000cf"/>
<rect x="333.75" y="384.58" width="5.09" height="5.09" fill="#0000cf"/>
<rect x="338.82" y="384.58" width="5.09" height="5.09" fill="#0000cf"/>
<rect x="369.24" y="384.58" width="5.09" height="5.09" fill="#0000df"/>
<rect x="384.45" y="384.58" width="5.09" height="5.09" fill="#0000df"/>
<rect x="394.59" y="384.58" width="5.09" height="5.09" fill="#0000ef"/>
<rect x="399.66" y="384.58" width="5.09" height="5.09" fill="#0000ef"/>
<rect x="404.73" y="384.58" width="5.09" height="5.09" fill="#0000ef"/>
<rect x="409.8" y="384.58" width="5.09" height="5.09" fill="#0010ff"/>
<rect x="414.87" y="384.58" width="5.09" height="5.09" fill="#0040ff"/>
<rect x="419.94" y="384.58" width="5.09" height="5.09" fill="#0000ef"/>
<rect x="425.01" y="384.58" width="5.09" height="5.09" fill="#0000ef"/>
<rect x="430.08" y="384.58" width="5.09" height="5.09" fill="#0000ef"/>
<rect x="435.15" y="384.58" width="5.09" height="5.09" fill="#0000ef"/>
<rect x="440.22" y="384.58" width="5.09" height="5.09" fill="#0000ef"/>
<rect x="445.29" y="384.58" width="5.09" height="5.09" fill="#0000ef"/>
<rect x="450.36" y="384.58" width="5.09" height="5.09" fill="#0000ef"/>
<rect x="455.43" y="384.58" width="5.09" height="5.09" fill="#0000ef"/>
<rect x="470.64" y="384.58" width="5.09" height="5.09" fill="#0000cf"/>
<rect x="333.75" y="389.64" width="5.09" height="5.09" fill="#0000cf"/>
<rect x="338.82" y="389.64" width="5.09" height="5.09" fill="#0000cf"/>
<rect x="348.96" y="389.64" width="5.09" height="5.09" fill="#0000cf"/>
<rect x="354.03" y="389.64" width="5.09" height="5.09" fill="#0000cf"/>
<rect x="359.1" y="389.64" width="5.09" height="5.09" fill="#0000ef"/>
<rect x="364.17" y="389.64" width="5.09" height="5.09" fill="#0000ef"/>
<rect x="369.24" y="389.64" width="5.09" height="5.09" fill="#0000ef"/>
<rect x="374.31" y="389.64" width="5.09" height="5.09" fill="#0000ef"/>
<rect x="379.38" y="389.64" width="5.09" height="5.09" fill="#0000ef"/>
<rect x="384.45" y="389.64" width="5.09" height="5.09" fill="#0000ef"/>
<rect x="389.52" y="389.64" width="5.09" height="5.09" fill="#0000ef"/>
<rect x="394.59" y="389.64" width="5.09" height="5.09" fill="#0000ef"/>
<rect x="399.66" y="389.64" width="5.09" height="5.09" fill="#0000ef"/>
<rect x="409.8" y="389.64" width="5.09" height="5.09" fill="#0000ef"/>
<rect x="414.87" y="389.64" width="5.09" height="5.09" fill="#0000ef"/>
<rect x="419.94" y="389.64" width="5.09" height="5.09" fill="#0000ef"/>
<rect x="425.01" y="389.64" width="5.09" height="5.09" fill="#0040ff"/>
<rect x="430.08" y="389.64" width="5.09" height="5.09" fill="#0000ef"/>
<rect x="440.22" y="389.64" width="5.09" height="5.09" fill="#0000ef"/>
<rect x="445.29" y="389.64" width="5.09" height="5.09" fill="#0000ef"/>
<rect x="450.36" y="389.64" width="5.09" height="5.09" fill="#0000ef"/>
<rect x="465.57" y="389.64" width="5.09" height="5.09" fill="#0000cf"/>
<rect x="338.82" y="394.71" width="5.09" height="5.09" fill="#0000cf"/>
<rect x="343.89" y="394.71" width="5.09" height="5.09" fill="#0000cf"/>
<rect x="359.1" y="394.71" width="5.09" height="5.09" fill="#0000ef"/>
<rect x="364.17" y="394.71" width="5.09" height="5.09" fill="#0000ef"/>
<rect x="369.24" y="394.71" width="5.09" height="5.09" fill="#0000ef"/>
<rect x="374.31" y="394.71" width="5.09" height="5.09" fill="#0000ef"/>
<rect x="379.38" y="394.71" width="5.09" height="5.09" fill="#0000ef"/>
<rect x="384.45" y="394.71" width="5.09" height="5.09" fill="#0000ef"/>
<rect x="389.52" y="394.71" width="5.09" height="5.09" fill="#0000ef"/>
<rect x="394.59" y="394.71" width="5.09" height="5.09" fill="#0000ef"/>
<rect x="404.73" y="394.71" width="5.09" height="5.09" fill="#0000ef"/>
<rect x="409.8" y="394.71" width="5.09" height="5.09" fill="#0010ff"/>
<rect x="414.87" y="394.71" width="5.09" height="5.09" fill="#0040ff"/>
<rect x="419.94" y="394.71" width="5.09" height="5.09" fill="#0000ef"/>
<rect x="425.01" y="394.71" width="5.09" height="5.09" fill="#0000ef"/>
<rect x="430.08" y="394.71" width="5.09" height="5.09" fill="#0000ef"/>
<rect x="435.15" y="394.71" width="5.09" height="5.09" fill="#0000ef"/>
<rect x="440.22" y="394.71" width="5.09" height="5.09" fill="#0000ef"/>
<rect x="445.29" y="394.71" width="5.09" height="5.09" fill="#0000ef"/>
<rect x="455.43" y="394.71" width="5.09" height="5.09" fill="#0000ef"/>
<rect x="354.03" y="399.77" width="5.09" height="5.09" fill="#0000cf"/>
<rect x="364.17" y="399.77" width="5.09" height="5.09" fill="#0000ef"/>
<rect x="369.24" y="399.77" width="5.09" height="5.09" fill="#0000ef"/>
<rect x="379.38" y="399.77" width="5.09" height="5.09" fill="#0000ef"/>
<rect x="384.45" y="399.77" width="5.09" height="5.09" fill="#0000ef"/>
<rect x="389.52" y="399.77" width="5.09" height="5.09" fill="#0000ef"/>
<rect x="394.59" y="399.77" width="5.09" height="5.09" fill="#0000ef"/>
<rect x="399.66" y="399.77" width="5.09" height="5.09" fill="#0000ef"/>
<rect x="404.73" y="399.77" width="5.09" height="5.09" fill="#0000ef"/>
<rect x="409.8" y="399.77" width="5.09" height="5.09" fill="#0000ef"/>
<rect x="414.87" y="399.77" width="5.09" height="5.09" fill="#0000ef"/>
<rect x="419.94" y="399.77" width="5.09" height="5.09" fill="#0000ef"/>
<rect x="425.01" y="399.77" width="5.09" height="5.09" fill="#0040ff"/>
<rect x="430.08" y="399.77" width="5.09" height="5.09" fill="#0000ef"/>
<rect x="435.15" y="399.77" width="5.09" height="5.09" fill="#0000ef"/>
<rect x="440.22" y="399.77" width="5.09" height="5.09" fill="#0000ef"/>
<rect x="445.29" y="399.77" width="5.09" height="5.09" fill="#0000ef"/>
<rect x="450.36" y="399.77" width="5.09" height="5.09" fill="#0000ef"/>
<rect x="455.43" y="399.77" width="5.09" height="5.09" fill="#0000ef"/>
<rect x="460.5" y="399.77" width="5.09" height="5.09" fill="#0000ef"/>
<rect x="348.96" y="404.84" width="5.09" height="5.09" fill="#0000cf"/>
<rect x="359.1" y="404.84" width="5.09" height="5.09" fill="#0000ef"/>
<rect x="364.17" y="404.84" width="5.09" height="5.09" fill="#0000ef"/>
<rect x="369.24" y="404.84" width="5.09" height="5.09" fill="#0000ef"/>
<rect x="374.31" y="404.84" width="5.09" height="5.09" fill="#0000ef"/>
<rect x="379.38" y="404.84" width="5.09" height="5.09" fill="#0000ef"/>
<rect x="384.45" y="404.84" width="5.09" height="5.09" fill="#0000ef"/>
<rect x="389.52" y="404.84" width="5.09" height="5.09" fill="#0000ef"/>
<rect x="394.59" y="404.84" width="5.09" height="5.09" fill="#0010ff"/>
<rect x="399.66" y="404.84" width="5.09" height="5.09" fill="#0010ff"/>
<rect x="404.73" y="404.84" width="5.09" height="5.09" fill="#0010ff"/>
<rect x="409.8" y="404.84" width="5.09" height="5.09" fill="#0010ff"/>
<rect x="414.87" y="404.84" width="5.09" height="5.09" fill="#0040ff"/>
<rect x="419.94" y="404.84" width="5.09" height="5.09" fill="#0040ff"/>
<rect x="425.01" y="404.84" width="5.09" height="5.09" fill="#0010ff"/>
<rect x="430.08" y="404.84" width="5.09" height="5.09" fill="#0040ff"/>
<rect x="435.15" y="404.84" width="5.09" height="5.09" fill="#0010ff"/>
<rect x="440.22" y="404.84" width="5.09" height="5.09" fill="#0000ef"/>
<rect x="445.29" y="404.84" width="5.09" height="5.09" fill="#0000ef"/>
<rect x="450.36" y="404.84" width="5.09" height="5.09" fill="#0000ef"/>
<rect x="455.43" y="404.84" width="5.09" height="5.09" fill="#0000ef"/>
<rect x="460.5" y="404.84" width="5.09" height="5.09" fill="#0000ef"/>
<rect x="465.57" y="404.84" width="5.09" height="5.09" fill="#0000df"/>
<rect x="354.03" y="409.91" width="5.09" height="5.09" fill="#0000cf"/>
<rect x="359.1" y="409.91" width="5.09" height="5.09" fill="#0000ef"/>
<rect x="369.24" y="409.91" width="5.09" height="5.09" fill="#0000ef"/>
<rect x="374.31" y="409.91" width="5.09" height="5.09" fill="#0000ef"/>
<rect x="379.38" y="409.91" width="5.09" height="5.09" fill="#0000ef"/>
<rect x="384.45" y="409.91" width="5.09" height="5.09" fill="#0000ef"/>
<rect x="389.52" y="409.91" width="5.09" height="5.09" fill="#0000ef"/>
<rect x="394.59" y="409.91" width="5.09" height="5.09" fill="#0010ff"/>
<rect x="399.66" y="409.91" width="5.09" height="5.09" fill="#0010ff"/>
<rect x="404.73" y="409.91" width="5.09" height="5.09" fill="#0010ff"/>
<rect x="409.8" y="409.91" width="5.09" height="5.09" fill="#0040ff"/>
<rect x="414.87" y="409.91" width="5.09" height="5.09" fill="#0040ff"/>
<rect x="419.94" y="409.91" width="5.09" height="5.09" fill="#0050ff"/>
<rect x="425.01" y="409.91" width="5.09" height="5.09" fill="#0040ff"/>
<rect x="430.08" y="409.91" width="5.09" height="5.09" fill="#0010ff"/>
<rect x="435.15" y="409.91" width="5.09" height="5.09" fill="#0010ff"/>
<rect x="440.22" y="409.91" width="5.09" height="5.09" fill="#0010ff"/>
<rect x="445.29" y="409.91" width="5.09" height="5.09" fill="#0040ff"/>
<rect x="450.36" y="409.91" width="5.09" height="5.09" fill="#0000ef"/>
<rect x="455.43" y="409.91" width="5.09" height="5.09" fill="#0000ef"/>
<rect x="460.5" y="409.91" width="5.09" height="5.09" fill="#0010ff"/>
<rect x="465.57" y="409.91" width="5.09" height="5.09" fill="#0000ef"/>
<rect x="333.75" y="414.97" width="5.09" height="5.09" fill="#0000cf"/>
<rect x="364.17" y="414.97" width="5.09" height="5.09" fill="#0000ef"/>
<rect x="369.24" y="414.97" width="5.09" height="5.09" fill="#0000ef"/>
<rect x="374.31" y="414.97" width="5.09" height="5.09" fill="#0000ef"/>
<rect x="379.38" y="414.97" width="5.09" height="5.09" fill="#0010ff"/>
<rect x="384.45" y="414.97" width="5.09" height="5.09" fill="#0010ff"/>
<rect x="389.52" y="414.97" width="5.09" height="5.09" fill="#0010ff"/>
<rect x="394.59" y="414.97" width="5.09" height="5.09" fill="#0010ff"/>
<rect x="399.66" y="414.97" width="5.09" height="5.09" fill="#0050ff"/>
<rect x="404.73" y="414.97" width="5.09" height="5.09" fill="#0080ff"/>
<rect x="409.8" y="414.97" width="5.09" height="5.09" fill="#0050ff"/>
<rect x="414.87" y="414.97" width="5.09" height="5.09" fill="#009fff"/>
<rect x="419.94" y="414.97" width="5.09" height="5.09" fill="#0050ff"/>
<rect x="425.01" y="414.97" width="5.09" height="5.09" fill="#0050ff"/>
<rect x="430.08" y="414.97" width="5.09" height="5.09" fill="#00bfff"/>
<rect x="435.15" y="414.97" width="5.09" height="5.09" fill="#0050ff"/>
<rect x="440.22" y="414.97" width="5.09" height="5.09" fill="#0010ff"/>
<rect x="445.29" y="414.97" width="5.09" height="5.09" fill="#00efff"/>
<rect x="450.36" y="414.97" width="5.09" height="5.09" fill="#0010ff"/>
<rect x="455.43" y="414.97" width="5.09" height="5.09" fill="#0010ff"/>
<rect x="460.5" y="414.97" width="5.09" height="5.09" fill="#0000ef"/>
<rect x="465.57" y="414.97" width="5.09" height="5.09" fill="#0000ef"/>
<rect x="470.64" y="414.97" width="5.09" height="5.09" fill="#0000ef"/>
<rect x="475.71" y="414.97" width="5.09" height="5.09" fill="#0000ef"/>
<rect x="480.78" y="414.97" width="5.09" height="5.09" fill="#0000ef"/>
<rect x="343.89" y="420.04" width="5.09" height="5.09" fill="#0000cf"/>
<rect x="348.96" y="420.04" width="5.09" height="5.09" fill="#0000cf"/>
<rect x="359.1" y="420.04" width="5.09" height="5.09" fill="#0000ef"/>
<rect x="364.17" y="420.04" width="5.09" height="5.09" fill="#0000ef"/>
<rect x="369.24" y="420.04" width="5.09" height="5.09" fill="#0000ef"/>
<rect x="374.31" y="420.04" width="5.09" height="5.09" fill="#0000ef"/>
<rect x="379.38" y="420.04" width="5.09" height="5.09" fill="#0000ef"/>
<rect x="384.45" y="420.04" width="5.09" height="5.09" fill="#0000ef"/>
<rect x="389.52" y="420.04" width="5.09" height="5.09" fill="#0000ef"/>
<rect x="394.59" y="420.04" width="5.09" height="5.09" fill="#0050ff"/>
<rect x="399.66" y="420.04" width="5.09" height="5.09" fill="#0050ff"/>
<rect x="404.73" y="420.04" width="5.09" height="5.09" fill="#0080ff"/>
<rect x="409.8" y="420.04" width="5.09" height="5.09" fill="#0080ff"/>
<rect x="414.87" y="420.04" width="5.09" height="5.09" fill="#00bfff"/>
<rect x="419.94" y="420.04" width="5.09" height="5.09" fill="#0050ff"/>
<rect x="425.01" y="420.04" width="5.09" height="5.09" fill="#0080ff"/>
<rect x="430.08" y="420.04" width="5.09" height="5.09" fill="#0080ff"/>
<rect x="435.15" y="420.04" width="5.09" height="5.09" fill="#0050ff"/>
<rect x="440.22" y="420.04" width="5.09" height="5.09" fill="#0040ff"/>
<rect x="445.29" y="420.04" width="5.09" height="5.09" fill="#0040ff"/>
<rect x="450.36" y="420.04" width="5.09" height="5.09" fill="#0010ff"/>
<rect x="455.43" y="420.04" width="5.09" height="5.09" fill="#0010ff"/>
<rect x="460.5" y="420.04" width="5.09" height="5.09" fill="#0000ef"/>
<rect x="465.57" y="420.04" width="5.09" height="5.09" fill="#0000ef"/>
<rect x="470.64" y="420.04" width="5.09" height="5.09" fill="#0000ef"/>
<rect x="475.71" y="420.04" width="5.09" height="5.09" fill="#0000ef"/>
<rect x="338.82" y="425.1" width="5.09" height="5.09" fill="#0000cf"/>
<rect x="348.96" y="425.1" width="5.09" height="5.09" fill="#0000cf"/>
<rect x="369.24" y="425.1" width="5.09" height="5.09" fill="#0000ef"/>
<rect x="374.31" y="425.1" width="5.09" height="5.09" fill="#0000ef"/>
<rect x="379.38" y="425.1" width="5.09" height="5.09" fill="#0000ef"/>
<rect x="384.45" y="425.1" width="5.09" height="5.09" fill="#0000ef"/>
<rect x="389.52" y="425.1" width="5.09" height="5.09" fill="#0040ff"/>
<rect x="394.59" y="425.1" width="5.09" height="5.09" fill="#009fff"/>
<rect x="399.66" y="425.1" width="5.09" height="5.09" fill="#0050ff"/>
<rect x="404.73" y="425.1" width="5.09" height="5.09" fill="#0080ff"/>
<rect x="409.8" y="425.1" width="5.09" height="5.09" fill="#00efff"/>
<rect x="414.87" y="425.1" width="5.09" height="5.09" fill="#40ffbf"/>
<rect x="419.94" y="425.1" width="5.09" height="5.09" fill="#00efff"/>
<rect x="425.01" y="425.1" width="5.09" height="5.09" fill="#0080ff"/>
<rect x="430.08" y="425.1" width="5.09" height="5.09" fill="#00bfff"/>
<rect x="435.15" y="425.1" width="5.09" height="5.09" fill="#00efff"/>
<rect x="440.22" y="425.1" width="5.09" height="5.09" fill="#0080ff"/>
<rect x="445.29" y="425.1" width="5.09" height="5.09" fill="#0080ff"/>
<rect x="450.36" y="425.1" width="5.09" height="5.09" fill="#0050ff"/>
<rect x="455.43" y="425.1" width="5.09" height="5.09" fill="#0010ff"/>
<rect x="460.5" y="425.1" width="5.09" height="5.09" fill="#0000ef"/>
<rect x="465.57" y="425.1" width="5.09" height="5.09" fill="#0000ef"/>
<rect x="470.64" y="425.1" width="5.09" height="5.09" fill="#0000ef"/>
<rect x="475.71" y="425.1" width="5.09" height="5.09" fill="#0000ef"/>
<rect x="490.92" y="425.1" width="5.09" height="5.09" fill="#0000cf"/>
<rect x="506.13" y="425.1" width="5.09" height="5.09" fill="#0000cf"/>
<rect x="333.75" y="430.17" width="5.09" height="5.09" fill="#0000cf"/>
<rect x="343.89" y="430.17" width="5.09" height="5.09" fill="#0000df"/>
<rect x="348.96" y="430.17" width="5.09" height="5.09" fill="#0000df"/>
<rect x="354.03" y="430.17" width="5.09" height="5.09" fill="#0000df"/>
<rect x="359.1" y="430.17" width="5.09" height="5.09" fill="#0000ef"/>
<rect x="364.17" y="430.17" width="5.09" height="5.09" fill="#0000ef"/>
<rect x="369.24" y="430.17" width="5.09" height="5.09" fill="#0000ef"/>
<rect x="374.31" y="430.17" width="5.09" height="5.09" fill="#0000ef"/>
<rect x="379.38" y="430.17" width="5.09" height="5.09" fill="#0000ef"/>
<rect x="384.45" y="430.17" width="5.09" height="5.09" fill="#0050ff"/>
<rect x="389.52" y="430.17" width="5.09" height="5.09" fill="#00efff"/>
<rect x="394.59" y="430.17" width="5.09" height="5.09" fill="#009fff"/>
<rect x="399.66" y="430.17" width="5.09" height="5.09" fill="#40ffbf"/>
<rect x="404.73" y="430.17" width="5.09" height="5.09" fill="#70ff8f"/>
<rect x="409.8" y="430.17" width="5.09" height="5.09" fill="#ffef00"/>
<rect x="414.87" y="430.17" width="5.09" height="5.09" fill="#40ffbf"/>
<rect x="419.94" y="430.17" width="5.09" height="5.09" fill="#bfff40"/>
<rect x="425.01" y="430.17" width="5.09" height="5.09" fill="#40ffbf"/>
<rect x="430.08" y="430.17" width="5.09" height="5.09" fill="#00efff"/>
<rect x="435.15" y="430.17" width="5.09" height="5.09" fill="#40ffbf"/>
<rect x="440.22" y="430.17" width="5.09" height="5.09" fill="#00bfff"/>
<rect x="445.29" y="430.17" width="5.09" height="5.09" fill="#009fff"/>
<rect x="450.36" y="430.17" width="5.09" height="5.09" fill="#0080ff"/>
<rect x="455.43" y="430.17" width="5.09" height="5.09" fill="#0050ff"/>
<rect x="460.5" y="430.17" width="5.09" height="5.09" fill="#0050ff"/>
<rect x="465.57" y="430.17" width="5.09" height="5.09" fill="#0050ff"/>
<rect x="470.64" y="430.17" width="5.09" height="5.09" fill="#0000ef"/>
<rect x="475.71" y="430.17" width="5.09" height="5.09" fill="#0000ef"/>
<rect x="480.78" y="430.17" width="5.09" height="5.09" fill="#0000ef"/>
<rect x="328.68" y="435.24" width="5.09" height="5.09" fill="#0000cf"/>
<rect x="333.75" y="435.24" width="5.09" height="5.09" fill="#0000cf"/>
<rect x="354.03" y="435.24" width="5.09" height="5.09" fill="#0000df"/>
<rect x="359.1" y="435.24" width="5.09" height="5.09" fill="#0000ef"/>
<rect x="364.17" y="435.24" width="5.09" height="5.09" fill="#0000ef"/>
<rect x="369.24" y="435.24" width="5.09" height="5.09" fill="#0000ef"/>
<rect x="374.31" y="435.24" width="5.09" height="5.09" fill="#0000ef"/>
<rect x="379.38" y="435.24" width="5.09" height="5.09" fill="#0000ef"/>
<rect x="384.45" y="435.24" width="5.09" height="5.09" fill="#0080ff"/>
<rect x="389.52" y="435.24" width="5.09" height="5.09" fill="#00efff"/>
<rect x="394.59" y="435.24" width="5.09" height="5.09" fill="#009fff"/>
<rect x="399.66" y="435.24" width="5.09" height="5.09" fill="#40ffbf"/>
<rect x="404.73" y="435.24" width="5.09" height="5.09" fill="#ffef00"/>
<rect x="409.8" y="435.24" width="5.09" height="5.09" fill="#ffef00"/>
<rect x="414.87" y="435.24" width="5.09" height="5.09" fill="#70ff8f"/>
<rect x="419.94" y="435.24" width="5.09" height="5.09" fill="#bfff40"/>
<rect x="425.01" y="435.24" width="5.09" height="5.09" fill="#ff4000"/>
<rect x="430.08" y="435.24" width="5.09" height="5.09" fill="#ffef00"/>
<rect x="435.15" y="435.24" width="5.09" height="5.09" fill="#00efff"/>
<rect x="440.22" y="435.24" width="5.09" height="5.09" fill="#40ffbf"/>
<rect x="445.29" y="435.24" width="5.09" height="5.09" fill="#70ff8f"/>
<rect x="450.36" y="435.24" width="5.09" height="5.09" fill="#0080ff"/>
<rect x="455.43" y="435.24" width="5.09" height="5.09" fill="#0080ff"/>
<rect x="460.5" y="435.24" width="5.09" height="5.09" fill="#0050ff"/>
<rect x="465.57" y="435.24" width="5.09" height="5.09" fill="#0000ef"/>
<rect x="470.64" y="435.24" width="5.09" height="5.09" fill="#0000ef"/>
<rect x="475.71" y="435.24" width="5.09" height="5.09" fill="#0040ff"/>
<rect x="480.78" y="435.24" width="5.09" height="5.09" fill="#0000ef"/>
<rect x="318.54" y="440.3" width="5.09" height="5.09" fill="#0000df"/>
<rect x="323.61" y="440.3" width="5.09" height="5.09" fill="#0000df"/>
<rect x="328.68" y="440.3" width="5.09" height="5.09" fill="#0000df"/>
<rect x="333.75" y="440.3" width="5.09" height="5.09" fill="#0000df"/>
<rect x="338.82" y="440.3" width="5.09" height="5.09" fill="#0000df"/>
<rect x="343.89" y="440.3" width="5.09" height="5.09" fill="#0000df"/>
<rect x="348.96" y="440.3" width="5.09" height="5.09" fill="#0010ff"/>
<rect x="354.03" y="440.3" width="5.09" height="5.09" fill="#0000ef"/>
<rect x="359.1" y="440.3" width="5.09" height="5.09" fill="#0000ef"/>
<rect x="364.17" y="440.3" width="5.09" height="5.09" fill="#0000ef"/>
<rect x="369.24" y="440.3" width="5.09" height="5.09" fill="#0000ef"/>
<rect x="374.31" y="440.3" width="5.09" height="5.09" fill="#0050ff"/>
<rect x="379.38" y="440.3" width="5.09" height="5.09" fill="#0050ff"/>
<rect x="384.45" y="440.3" width="5.09" height="5.09" fill="#0080ff"/>
<rect x="389.52" y="440.3" width="5.09" height="5.09" fill="#0080ff"/>
<rect x="394.59" y="440.3" width="5.09" height="5.09" fill="#40ffbf"/>
<rect x="399.66" y="440.3" width="5.09" height="5.09" fill="#ff4000"/>
<rect x="404.73" y="440.3" width="5.09" height="5.09" fill="#bfff40"/>
<rect x="409.8" y="440.3" width="5.09" height="5.09" fill="#ff4000"/>
<rect x="414.87" y="440.3" width="5.09" height="5.09" fill="#ff4000"/>
<rect x="419.94" y="440.3" width="5.09" height="5.09" fill="#ff9f00"/>
<rect x="425.01" y="440.3" width="5.09" height="5.09" fill="#ff4000"/>
<rect x="430.08" y="440.3" width="5.09" height="5.09" fill="#ff8000"/>
<rect x="435.15" y="440.3" width="5.09" height="5.09" fill="#ff1000"/>
<rect x="440.22" y="440.3" width="5.09" height="5.09" fill="#ffbf00"/>
<rect x="445.29" y="440.3" width="5.09" height="5.09" fill="#40ffbf"/>
<rect x="450.36" y="440.3" width="5.09" height="5.09" fill="#00efff"/>
<rect x="455.43" y="440.3" width="5.09" height="5.09" fill="#009fff"/>
<rect x="460.5" y="440.3" width="5.09" height="5.09" fill="#0050ff"/>
<rect x="465.57" y="440.3" width="5.09" height="5.09" fill="#0000ef"/>
<rect x="470.64" y="440.3" width="5.09" height="5.09" fill="#0000ef"/>
<rect x="475.71" y="440.3" width="5.09" height="5.09" fill="#0000ef"/>
<rect x="485.85" y="440.3" width="5.09" height="5.09" fill="#0000df"/>
<rect x="328.68" y="445.37" width="5.09" height="5.09" fill="#0000ef"/>
<rect x="333.75" y="445.37" width="5.09" height="5.09" fill="#0000ef"/>
<rect x="338.82" y="445.37" width="5.09" height="5.09" fill="#0000ef"/>
<rect x="343.89" y="445.37" width="5.09" height="5.09" fill="#0000ef"/>
<rect x="348.96" y="445.37" width="5.09" height="5.09" fill="#0040ff"/>
<rect x="354.03" y="445.37" width="5.09" height="5.09" fill="#0050ff"/>
<rect x="359.1" y="445.37" width="5.09" height="5.09" fill="#0040ff"/>
<rect x="364.17" y="445.37" width="5.09" height="5.09" fill="#0000ef"/>
<rect x="369.24" y="445.37" width="5.09" height="5.09" fill="#0000ef"/>
<rect x="374.31" y="445.37" width="5.09" height="5.09" fill="#0080ff"/>
<rect x="379.38" y="445.37" width="5.09" height="5.09" fill="#009fff"/>
<rect x="384.45" y="445.37" width="5.09" height="5.09" fill="#00efff"/>
<rect x="389.52" y="445.37" width="5.09" height="5.09" fill="#8fff70"/>
<rect x="394.59" y="445.37" width="5.09" height="5.09" fill="#ff9f00"/>
<rect x="399.66" y="445.37" width="5.09" height="5.09" fill="#ff9f00"/>
<rect x="404.73" y="445.37" width="5.09" height="5.09" fill="#ffef00"/>
<rect x="409.8" y="445.37" width="5.09" height="5.09" fill="#cf0000"/>
<rect x="414.87" y="445.37" width="5.09" height="5.09" fill="#ffef00"/>
<rect x="419.94" y="445.37" width="5.09" height="5.09" fill="#ff1000"/>
<rect x="425.01" y="445.37" width="5.09" height="5.09" fill="#ff4000"/>
<rect x="430.08" y="445.37" width="5.09" height="5.09" fill="#8f0000"/>
<rect x="435.15" y="445.37" width="5.09" height="5.09" fill="#8fff70"/>
<rect x="440.22" y="445.37" width="5.09" height="5.09" fill="#40ffbf"/>
<rect x="445.29" y="445.37" width="5.09" height="5.09" fill="#00efff"/>
<rect x="450.36" y="445.37" width="5.09" height="5.09" fill="#009fff"/>
<rect x="455.43" y="445.37" width="5.09" height="5.09" fill="#00bfff"/>
<rect x="460.5" y="445.37" width="5.09" height="5.09" fill="#0080ff"/>
<rect x="465.57" y="445.37" width="5.09" height="5.09" fill="#0050ff"/>
<rect x="470.64" y="445.37" width="5.09" height="5.09" fill="#0080ff"/>
<rect x="475.71" y="445.37" width="5.09" height="5.09" fill="#0000ef"/>
<rect x="480.78" y="445.37" width="5.09" height="5.09" fill="#0000ef"/>
<rect x="485.85" y="445.37" width="5.09" height="5.09" fill="#0000ef"/>
<rect x="323.61" y="450.43" width="5.09" height="5.09" fill="#0000df"/>
<rect x="328.68" y="450.43" width="5.09" height="5.09" fill="#0000df"/>
<rect x="338.82" y="450.43" width="5.09" height="5.09" fill="#0000ef"/>
<rect x="343.89" y="450.43" width="5.09" height="5.09" fill="#0000ef"/>
<rect x="348.96" y="450.43" width="5.09" height="5.09" fill="#0010ff"/>
<rect x="354.03" y="450.43" width="5.09" height="5.09" fill="#0040ff"/>
<rect x="359.1" y="450.43" width="5.09" height="5.09" fill="#0000ef"/>
<rect x="364.17" y="450.43" width="5.09" height="5.09" fill="#0000ef"/>
<rect x="369.24" y="450.43" width="5.09" height="5.09" fill="#0040ff"/>
<rect x="374.31" y="450.43" width="5.09" height="5.09" fill="#0050ff"/>
<rect x="379.38" y="450.43" width="5.09" height="5.09" fill="#0080ff"/>
<rect x="384.45" y="450.43" width="5.09" height="5.09" fill="#0050ff"/>
<rect x="389.52" y="450.43" width="5.09" height="5.09" fill="#0080ff"/>
<rect x="394.59" y="450.43" width="5.09" height="5.09" fill="#ffef00"/>
<rect x="399.66" y="450.43" width="5.09" height="5.09" fill="#8fff70"/>
<rect x="404.73" y="450.43" width="5.09" height="5.09" fill="#bfff40"/>
<rect x="409.8" y="450.43" width="5.09" height="5.09" fill="#70ff8f"/>
<rect x="414.87" y="450.43" width="5.09" height="5.09" fill="#ffef00"/>
<rect x="419.94" y="450.43" width="5.09" height="5.09" fill="#ffef00"/>
<rect x="425.01" y="450.43" width="5.09" height="5.09" fill="#bfff40"/>
<rect x="430.08" y="450.43" width="5.09" height="5.09" fill="#70ff8f"/>
<rect x="435.15" y="450.43" width="5.09" height="5.09" fill="#00efff"/>
<rect x="440.22" y="450.43" width="5.09" height="5.09" fill="#ffef00"/>
<rect x="445.29" y="450.43" width="5.09" height="5.09" fill="#0080ff"/>
<rect x="450.36" y="450.43" width="5.09" height="5.09" fill="#0080ff"/>
<rect x="455.43" y="450.43" width="5.09" height="5.09" fill="#00bfff"/>
<rect x="460.5" y="450.43" width="5.09" height="5.09" fill="#0000ef"/>
<rect x="465.57" y="450.43" width="5.09" height="5.09" fill="#0000ef"/>
<rect x="470.64" y="450.43" width="5.09" height="5.09" fill="#0040ff"/>
<rect x="475.71" y="450.43" width="5.09" height="5.09" fill="#0000ef"/>
<rect x="480.78" y="450.43" width="5.09" height="5.09" fill="#0000ef"/>
<rect x="485.85" y="450.43" width="5.09" height="5.09" fill="#0000ef"/>
<rect x="490.92" y="450.43" width="5.09" height="5.09" fill="#0000ef"/>
<path d="M313.47 202.2V455.5M318.54 202.2V455.5M323.61 202.2V455.5M328.68 202.2V455.5M333.75 202.2V455.5M338.82 202.2V455.5M343.89 202.2V455.5M348.96 202.2V455.5M354.03 202.2V455.5M359.1 202.2V455.5M364.17 202.2V455.5M369.24 202.2V455.5M374.31 202.2V455.5M379.38 202.2V455.5M384.45 202.2V455.5M389.52 202.2V455.5M394.59 202.2V455.5M399.66 202.2V455.5M404.73 202.2V455.5M409.8 202.2V455.5M414.87 202.2V455.5M419.94 202.2V455.5M425.01 202.2V455.5M430.08 202.2V455.5M435.15 202.2V455.5M440.22 202.2V455.5M445.29 202.2V455.5M450.36 202.2V455.5M455.43 202.2V455.5M460.5 202.2V455.5M465.57 202.2V455.5M470.64 202.2V455.5M475.71 202.2V455.5M480.78 202.2V455.5M485.85 202.2V455.5M490.92 202.2V455.5M495.99 202.2V455.5M501.06 202.2V455.5M506.13 202.2V455.5M308.4 207.27H511.2M308.4 212.33H511.2M308.4 217.4H511.2M308.4 222.46H511.2M308.4 227.53H511.2M308.4 232.6H511.2M308.4 237.66H511.2M308.4 242.73H511.2M308.4 247.79H511.2M308.4 252.86H511.2M308.4 257.93H511.2M308.4 262.99H511.2M308.4 268.06H511.2M308.4 273.12H511.2M308.4 278.19H511.2M308.4 283.26H511.2M308.4 288.32H511.2M308.4 293.39H511.2M308.4 298.45H511.2M308.4 303.52H511.2M308.4 308.59H511.2M308.4 313.65H511.2M308.4 318.72H511.2M308.4 323.78H511.2M308.4 328.85H511.2M308.4 333.92H511.2M308.4 338.98H511.2M308.4 344.05H511.2M308.4 349.11H511.2M308.4 354.18H511.2M308.4 359.25H511.2M308.4 364.31H511.2M308.4 369.38H511.2M308.4 374.44H511.2M308.4 379.51H511.2M308.4 384.58H511.2M308.4 389.64H511.2M308.4 394.71H511.2M308.4 399.77H511.2M308.4 404.84H511.2M308.4 409.91H511.2M308.4 414.97H511.2M308.4 420.04H511.2M308.4 425.1H511.2M308.4 430.17H511.2M308.4 435.24H511.2M308.4 440.3H511.2M308.4 445.37H511.2M308.4 450.43H511.2" stroke="rgba(0,0,0,0.85)" stroke-width="0.7" fill="none"/>
<rect x="308.4" y="202.2" width="202.8" height="253.3" fill="none" stroke="#222" stroke-width="0.6"/>
<text x="306.6" y="464.9" font-size="7.3" text-anchor="middle">-100</text>
<text x="331.95" y="464.9" font-size="7.3" text-anchor="middle">-90</text>
<text x="357.3" y="464.9" font-size="7.3" text-anchor="middle">-80</text>
<text x="382.65" y="464.9" font-size="7.3" text-anchor="middle">-70</text>
<text x="408" y="464.9" font-size="7.3" text-anchor="middle">-60</text>
<text x="433.35" y="464.9" font-size="7.3" text-anchor="middle">-50</text>
<text x="458.7" y="464.9" font-size="7.3" text-anchor="middle">-40</text>
<text x="484.05" y="464.9" font-size="7.3" text-anchor="middle">-30</text>
<text x="509.4" y="464.9" font-size="7.3" text-anchor="middle">-20</text>
<text x="307" y="458.02" font-size="7" text-anchor="end">0</text>
<text x="307" y="432.69" font-size="7" text-anchor="end">10</text>
<text x="307" y="407.36" font-size="7" text-anchor="end">20</text>
<text x="307" y="382.03" font-size="7" text-anchor="end">30</text>
<text x="307" y="356.7" font-size="7" text-anchor="end">40</text>
<text x="307" y="331.37" font-size="7" text-anchor="end">50</text>
<text x="307" y="306.04" font-size="7" text-anchor="end">60</text>
<text x="307" y="280.71" font-size="7" text-anchor="end">70</text>
<text x="307" y="255.38" font-size="7" text-anchor="end">80</text>
<text x="307" y="230.05" font-size="7" text-anchor="end">90</text>
<text x="307" y="204.72" font-size="7" text-anchor="end">100</text>
<path d="M308.4 455.5v-2M308.4 202.2v2M333.75 455.5v-2M333.75 202.2v2M359.1 455.5v-2M359.1 202.2v2M384.45 455.5v-2M384.45 202.2v2M409.8 455.5v-2M409.8 202.2v2M435.15 455.5v-2M435.15 202.2v2M460.5 455.5v-2M460.5 202.2v2M485.85 455.5v-2M485.85 202.2v2M511.2 455.5v-2M511.2 202.2v2M308.4 455.5h2M511.2 455.5h-2M308.4 430.17h2M511.2 430.17h-2M308.4 404.84h2M511.2 404.84h-2M308.4 379.51h2M511.2 379.51h-2M308.4 354.18h2M511.2 354.18h-2M308.4 328.85h2M511.2 328.85h-2M308.4 303.52h2M511.2 303.52h-2M308.4 278.19h2M511.2 278.19h-2M308.4 252.86h2M511.2 252.86h-2M308.4 227.53h2M511.2 227.53h-2M308.4 202.2h2M511.2 202.2h-2" stroke="#222" stroke-width="0.5" fill="none"/>
<text x="409.8" y="196.7" font-size="7.2" text-anchor="middle">Heat map</text>
<text x="409.8" y="473.3" font-size="7.15" text-anchor="middle">Max.an RSSI [dBm]</text>
<text transform="translate(289.8 330.2) rotate(-90)" font-size="6.9" text-anchor="middle">Positioning Error [m]</text>
<linearGradient id="gd" x1="0" y1="0" x2="0" y2="1"><stop offset="0%" stop-color="#800000"/><stop offset="1.56%" stop-color="#800000"/><stop offset="1.56%" stop-color="#8f0000"/><stop offset="3.12%" stop-color="#8f0000"/><stop offset="3.12%" stop-color="#9f0000"/><stop offset="4.69%" stop-color="#9f0000"/><stop offset="4.69%" stop-color="#af0000"/><stop offset="6.25%" stop-color="#af0000"/><stop offset="6.25%" stop-color="#bf0000"/><stop offset="7.81%" stop-color="#bf0000"/><stop offset="7.81%" stop-color="#cf0000"/><stop offset="9.38%" stop-color="#cf0000"/><stop offset="9.38%" stop-color="#df0000"/><stop offset="10.94%" stop-color="#df0000"/><stop offset="10.94%" stop-color="#ef0000"/><stop offset="12.5%" stop-color="#ef0000"/><stop offset="12.5%" stop-color="#ff0000"/><stop offset="14.06%" stop-color="#ff0000"/><stop offset="14.06%" stop-color="#ff1000"/><stop offset="15.62%" stop-color="#ff1000"/><stop offset="15.62%" stop-color="#ff2000"/><stop offset="17.19%" stop-color="#ff2000"/><stop offset="17.19%" stop-color="#ff3000"/><stop offset="18.75%" stop-color="#ff3000"/><stop offset="18.75%" stop-color="#ff4000"/><stop offset="20.31%" stop-color="#ff4000"/><stop offset="20.31%" stop-color="#ff5000"/><stop offset="21.88%" stop-color="#ff5000"/><stop offset="21.88%" stop-color="#ff6000"/><stop offset="23.44%" stop-color="#ff6000"/><stop offset="23.44%" stop-color="#ff7000"/><stop offset="25%" stop-color="#ff7000"/><stop offset="25%" stop-color="#ff8000"/><stop offset="26.56%" stop-color="#ff8000"/><stop offset="26.56%" stop-color="#ff8f00"/><stop offset="28.12%" stop-color="#ff8f00"/><stop offset="28.12%" stop-color="#ff9f00"/><stop offset="29.69%" stop-color="#ff9f00"/><stop offset="29.69%" stop-color="#ffaf00"/><stop offset="31.25%" stop-color="#ffaf00"/><stop offset="31.25%" stop-color="#ffbf00"/><stop offset="32.81%" stop-color="#ffbf00"/><stop offset="32.81%" stop-color="#ffcf00"/><stop offset="34.38%" stop-color="#ffcf00"/><stop offset="34.38%" stop-color="#ffdf00"/><stop offset="35.94%" stop-color="#ffdf00"/><stop offset="35.94%" stop-color="#ffef00"/><stop offset="37.5%" stop-color="#ffef00"/><stop offset="37.5%" stop-color="#ffff00"/><stop offset="39.06%" stop-color="#ffff00"/><stop offset="39.06%" stop-color="#efff10"/><stop offset="40.62%" stop-color="#efff10"/><stop offset="40.62%" stop-color="#dfff20"/><stop offset="42.19%" stop-color="#dfff20"/><stop offset="42.19%" stop-color="#cfff30"/><stop offset="43.75%" stop-color="#cfff30"/><stop offset="43.75%" stop-color="#bfff40"/><stop offset="45.31%" stop-color="#bfff40"/><stop offset="45.31%" stop-color="#afff50"/><stop offset="46.88%" stop-color="#afff50"/><stop offset="46.88%" stop-color="#9fff60"/><stop offset="48.44%" stop-color="#9fff60"/><stop offset="48.44%" stop-color="#8fff70"/><stop offset="50%" stop-color="#8fff70"/><stop offset="50%" stop-color="#80ff80"/><stop offset="51.56%" stop-color="#80ff80"/><stop offset="51.56%" stop-color="#70ff8f"/><stop offset="53.12%" stop-color="#70ff8f"/><stop offset="53.12%" stop-color="#60ff9f"/><stop offset="54.69%" stop-color="#60ff9f"/><stop offset="54.69%" stop-color="#50ffaf"/><stop offset="56.25%" stop-color="#50ffaf"/><stop offset="56.25%" stop-color="#40ffbf"/><stop offset="57.81%" stop-color="#40ffbf"/><stop offset="57.81%" stop-color="#30ffcf"/><stop offset="59.38%" stop-color="#30ffcf"/><stop offset="59.38%" stop-color="#20ffdf"/><stop offset="60.94%" stop-color="#20ffdf"/><stop offset="60.94%" stop-color="#10ffef"/><stop offset="62.5%" stop-color="#10ffef"/><stop offset="62.5%" stop-color="#00ffff"/><stop offset="64.06%" stop-color="#00ffff"/><stop offset="64.06%" stop-color="#00efff"/><stop offset="65.62%" stop-color="#00efff"/><stop offset="65.62%" stop-color="#00dfff"/><stop offset="67.19%" stop-color="#00dfff"/><stop offset="67.19%" stop-color="#00cfff"/><stop offset="68.75%" stop-color="#00cfff"/><stop offset="68.75%" stop-color="#00bfff"/><stop offset="70.31%" stop-color="#00bfff"/><stop offset="70.31%" stop-color="#00afff"/><stop offset="71.88%" stop-color="#00afff"/><stop offset="71.88%" stop-color="#009fff"/><stop offset="73.44%" stop-color="#009fff"/><stop offset="73.44%" stop-color="#008fff"/><stop offset="75%" stop-color="#008fff"/><stop offset="75%" stop-color="#0080ff"/><stop offset="76.56%" stop-color="#0080ff"/><stop offset="76.56%" stop-color="#0070ff"/><stop offset="78.12%" stop-color="#0070ff"/><stop offset="78.12%" stop-color="#0060ff"/><stop offset="79.69%" stop-color="#0060ff"/><stop offset="79.69%" stop-color="#0050ff"/><stop offset="81.25%" stop-color="#0050ff"/><stop offset="81.25%" stop-color="#0040ff"/><stop offset="82.81%" stop-color="#0040ff"/><stop offset="82.81%" stop-color="#0030ff"/><stop offset="84.38%" stop-color="#0030ff"/><stop offset="84.38%" stop-color="#0020ff"/><stop offset="85.94%" stop-color="#0020ff"/><stop offset="85.94%" stop-color="#0010ff"/><stop offset="87.5%" stop-color="#0010ff"/><stop offset="87.5%" stop-color="#0000ef"/><stop offset="89.06%" stop-color="#0000ef"/><stop offset="89.06%" stop-color="#0000df"/><stop offset="90.62%" stop-color="#0000df"/><stop offset="90.62%" stop-color="#0000cf"/><stop offset="92.19%" stop-color="#0000cf"/><stop offset="92.19%" stop-color="#0000bf"/><stop offset="93.75%" stop-color="#0000bf"/><stop offset="93.75%" stop-color="#0000af"/><stop offset="95.31%" stop-color="#0000af"/><stop offset="95.31%" stop-color="#00009f"/><stop offset="96.88%" stop-color="#00009f"/><stop offset="96.88%" stop-color="#00008f"/><stop offset="98.44%" stop-color="#00008f"/><stop offset="98.44%" stop-color="#ffffff"/><stop offset="100%" stop-color="#ffffff"/></linearGradient>
<rect x="522" y="202.6" width="14.3" height="252.8" fill="url(#gd)"/>
<rect x="522" y="202.6" width="14.3" height="252.8" fill="none" stroke="#222" stroke-width="0.5"/>
<text x="538.1" y="454.04" font-size="7.2">0</text>
<text x="538.1" y="414.54" font-size="7.2">10</text>
<text x="538.1" y="375.04" font-size="7.2">20</text>
<text x="538.1" y="335.54" font-size="7.2">30</text>
<text x="538.1" y="296.04" font-size="7.2">40</text>
<text x="538.1" y="256.54" font-size="7.2">50</text>
<text x="538.1" y="217.04" font-size="7.2">60</text>
<path d="M536.3 451.45h-1.2M522 451.45h1.2M536.3 411.95h-1.2M522 411.95h1.2M536.3 372.45h-1.2M522 372.45h1.2M536.3 332.95h-1.2M522 332.95h1.2M536.3 293.45h-1.2M522 293.45h1.2M536.3 253.95h-1.2M522 253.95h1.2M536.3 214.45h-1.2M522 214.45h1.2" stroke="#222" stroke-width="0.5" fill="none"/>
<text x="415.3" y="494.3" font-size="11.3" text-anchor="middle" class="cap">(d)</text>
</g></svg></div></body></html>
